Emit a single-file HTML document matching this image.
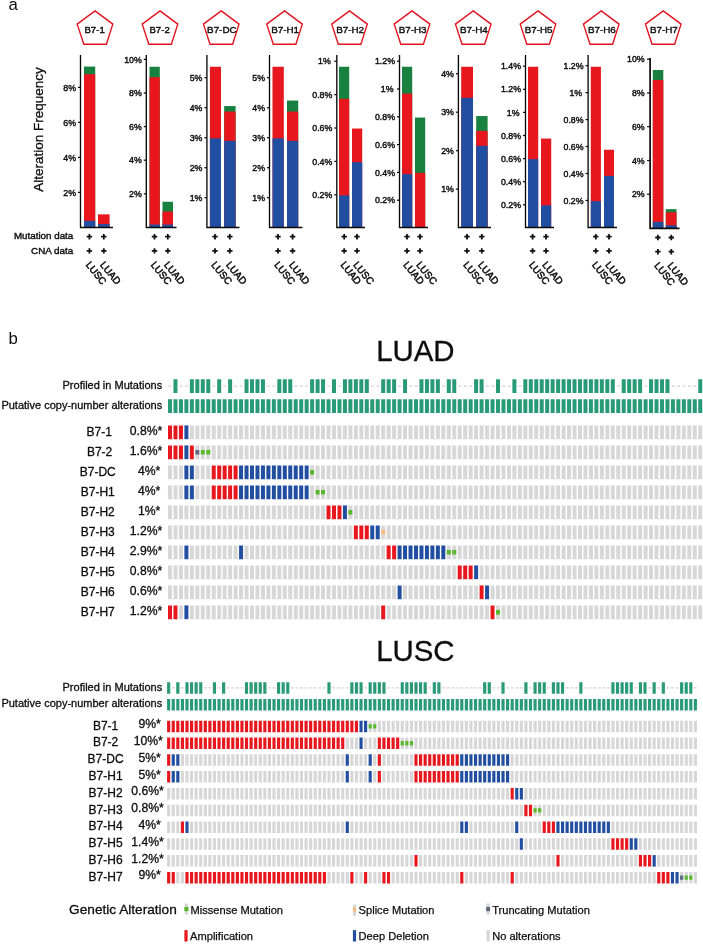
<!DOCTYPE html>
<html lang="en">
<head>
<meta charset="utf-8">
<title>B7 family alterations in LUAD and LUSC</title>
<style>
html,body{margin:0;padding:0;background:#fff;}
body{width:703px;height:944px;overflow:hidden;}
svg{display:block;}
.t{font-family:'Liberation Sans', Arial, sans-serif;fill:#0d0d0d;}
.s{stroke:#0d0d0d;stroke-width:0.4;}
.s2{stroke:#0d0d0d;stroke-width:0.25;}
.s3{stroke:#0d0d0d;stroke-width:0.3;}
.s4{stroke:#0d0d0d;stroke-width:0.5;}
</style>
</head>
<body>
<svg width="703" height="944" viewBox="0 0 703 944">
<rect width="703" height="944" fill="#fff"/>
<text x="8.5" y="10.0" font-size="16.8" class="t">a</text>
<text x="8.5" y="343.8" font-size="16.8" class="t">b</text>
<text transform="translate(42.8,129.5) rotate(-90)" text-anchor="middle" font-size="13.5" class="t s3">Alteration Frequency</text>
<text x="73.3" y="239.2" text-anchor="end" font-size="9.8" class="t s">Mutation data</text>
<text x="73.3" y="253.6" text-anchor="end" font-size="9.9" class="t s">CNA data</text>
<polygon points="95,10.9 112.8,24.1 106.4,44.2 83.8,44.2 77.2,24.1" fill="#fff" stroke="#e3141f" stroke-width="1.4"/>
<text x="94.6" y="33.2" text-anchor="middle" font-size="9.6" class="t s">B7-1</text>
<rect x="84" y="66.55" width="11.2" height="160.95" fill="#18813f"/>
<rect x="84" y="74.15" width="11.2" height="153.35" fill="#e8171d"/>
<rect x="84" y="220.85" width="11.2" height="6.65" fill="#214ea1"/>
<rect x="98" y="214.35" width="11.6" height="13.15" fill="#e8171d"/>
<rect x="98" y="224.15" width="11.6" height="3.35" fill="#214ea1"/>
<path d="M80.5 55V227.5H113" fill="none" stroke="#0a0a0a" stroke-width="1.35"/>
<path d="M78 87.4H80.5" stroke="#0a0a0a" stroke-width="1.25"/>
<text x="76" y="90.55" text-anchor="end" font-size="8.8" class="t s">8%</text>
<path d="M78 122.4H80.5" stroke="#0a0a0a" stroke-width="1.25"/>
<text x="76" y="125.55" text-anchor="end" font-size="8.8" class="t s">6%</text>
<path d="M78 157.4H80.5" stroke="#0a0a0a" stroke-width="1.25"/>
<text x="76" y="160.55" text-anchor="end" font-size="8.8" class="t s">4%</text>
<path d="M78 192.4H80.5" stroke="#0a0a0a" stroke-width="1.25"/>
<text x="76" y="195.55" text-anchor="end" font-size="8.8" class="t s">2%</text>
<path d="M86.7 236.7H92.1M89.4 234V239.4" stroke="#111" stroke-width="1.8" fill="none"/>
<path d="M86.7 250.9H92.1M89.4 248.2V253.6" stroke="#111" stroke-width="1.8" fill="none"/>
<path d="M101.1 236.7H106.5M103.8 234V239.4" stroke="#111" stroke-width="1.8" fill="none"/>
<path d="M101.1 250.9H106.5M103.8 248.2V253.6" stroke="#111" stroke-width="1.8" fill="none"/>
<text transform="translate(85.2,264.9) rotate(51)" font-size="9.9" class="t s4">LUSC</text>
<text transform="translate(99.6,264.9) rotate(51)" font-size="9.9" class="t s4">LUAD</text>
<polygon points="160,10.9 177.8,24.1 171.4,44.2 148.8,44.2 142.2,24.1" fill="#fff" stroke="#e3141f" stroke-width="1.4"/>
<text x="159.6" y="33.2" text-anchor="middle" font-size="9.6" class="t s">B7-2</text>
<rect x="149.5" y="66.75" width="10.3" height="160.75" fill="#18813f"/>
<rect x="149.5" y="77.15" width="10.3" height="150.35" fill="#e8171d"/>
<rect x="149.5" y="224.55" width="10.3" height="2.95" fill="#214ea1"/>
<rect x="162.5" y="201.75" width="10.5" height="25.75" fill="#18813f"/>
<rect x="162.5" y="211.55" width="10.5" height="15.95" fill="#e8171d"/>
<rect x="162.5" y="224.55" width="10.5" height="2.95" fill="#214ea1"/>
<path d="M146.3 55V227.5H176.5" fill="none" stroke="#0a0a0a" stroke-width="1.35"/>
<path d="M143.8 59.4H146.3" stroke="#0a0a0a" stroke-width="1.25"/>
<text x="141.8" y="62.55" text-anchor="end" font-size="8.8" class="t s">10%</text>
<path d="M143.8 93H146.3" stroke="#0a0a0a" stroke-width="1.25"/>
<text x="141.8" y="96.15" text-anchor="end" font-size="8.8" class="t s">8%</text>
<path d="M143.8 126.6H146.3" stroke="#0a0a0a" stroke-width="1.25"/>
<text x="141.8" y="129.75" text-anchor="end" font-size="8.8" class="t s">6%</text>
<path d="M143.8 160.2H146.3" stroke="#0a0a0a" stroke-width="1.25"/>
<text x="141.8" y="163.35" text-anchor="end" font-size="8.8" class="t s">4%</text>
<path d="M143.8 193.8H146.3" stroke="#0a0a0a" stroke-width="1.25"/>
<text x="141.8" y="196.95" text-anchor="end" font-size="8.8" class="t s">2%</text>
<path d="M151.8 236.7H157.2M154.5 234V239.4" stroke="#111" stroke-width="1.8" fill="none"/>
<path d="M151.8 250.9H157.2M154.5 248.2V253.6" stroke="#111" stroke-width="1.8" fill="none"/>
<path d="M165.1 236.7H170.5M167.8 234V239.4" stroke="#111" stroke-width="1.8" fill="none"/>
<path d="M165.1 250.9H170.5M167.8 248.2V253.6" stroke="#111" stroke-width="1.8" fill="none"/>
<text transform="translate(150.3,264.9) rotate(51)" font-size="9.9" class="t s4">LUSC</text>
<text transform="translate(163.6,264.9) rotate(51)" font-size="9.9" class="t s4">LUAD</text>
<polygon points="221.25,10.9 239.05,24.1 232.65,44.2 210.05,44.2 203.45,24.1" fill="#fff" stroke="#e3141f" stroke-width="1.4"/>
<text x="221.85" y="33.2" text-anchor="middle" font-size="9.85" class="t s">B7-DC</text>
<rect x="209.9" y="66.75" width="11.1" height="160.75" fill="#e8171d"/>
<rect x="209.9" y="138.35" width="11.1" height="89.15" fill="#214ea1"/>
<rect x="224.2" y="106.05" width="11.4" height="121.45" fill="#18813f"/>
<rect x="224.2" y="111.55" width="11.4" height="115.95" fill="#e8171d"/>
<rect x="224.2" y="140.85" width="11.4" height="86.65" fill="#214ea1"/>
<path d="M206.9 55V227.5H239.5" fill="none" stroke="#0a0a0a" stroke-width="1.35"/>
<path d="M204.4 77.7H206.9" stroke="#0a0a0a" stroke-width="1.25"/>
<text x="202.4" y="80.85" text-anchor="end" font-size="8.8" class="t s">5%</text>
<path d="M204.4 107.7H206.9" stroke="#0a0a0a" stroke-width="1.25"/>
<text x="202.4" y="110.85" text-anchor="end" font-size="8.8" class="t s">4%</text>
<path d="M204.4 137.7H206.9" stroke="#0a0a0a" stroke-width="1.25"/>
<text x="202.4" y="140.85" text-anchor="end" font-size="8.8" class="t s">3%</text>
<path d="M204.4 167.7H206.9" stroke="#0a0a0a" stroke-width="1.25"/>
<text x="202.4" y="170.85" text-anchor="end" font-size="8.8" class="t s">2%</text>
<path d="M204.4 197.7H206.9" stroke="#0a0a0a" stroke-width="1.25"/>
<text x="202.4" y="200.85" text-anchor="end" font-size="8.8" class="t s">1%</text>
<path d="M212.3 236.7H217.7M215 234V239.4" stroke="#111" stroke-width="1.8" fill="none"/>
<path d="M212.3 250.9H217.7M215 248.2V253.6" stroke="#111" stroke-width="1.8" fill="none"/>
<path d="M227.1 236.7H232.5M229.8 234V239.4" stroke="#111" stroke-width="1.8" fill="none"/>
<path d="M227.1 250.9H232.5M229.8 248.2V253.6" stroke="#111" stroke-width="1.8" fill="none"/>
<text transform="translate(210.8,264.9) rotate(51)" font-size="9.9" class="t s4">LUSC</text>
<text transform="translate(225.6,264.9) rotate(51)" font-size="9.9" class="t s4">LUAD</text>
<polygon points="284.5,10.9 302.3,24.1 295.9,44.2 273.3,44.2 266.7,24.1" fill="#fff" stroke="#e3141f" stroke-width="1.4"/>
<text x="285.1" y="33.2" text-anchor="middle" font-size="9.85" class="t s">B7-H1</text>
<rect x="272.5" y="66.75" width="11.3" height="160.75" fill="#e8171d"/>
<rect x="272.5" y="138.35" width="11.3" height="89.15" fill="#214ea1"/>
<rect x="287" y="100.55" width="11.2" height="126.95" fill="#18813f"/>
<rect x="287" y="111.55" width="11.2" height="115.95" fill="#e8171d"/>
<rect x="287" y="140.85" width="11.2" height="86.65" fill="#214ea1"/>
<path d="M269.5 55V227.5H302.5" fill="none" stroke="#0a0a0a" stroke-width="1.35"/>
<path d="M267 77.7H269.5" stroke="#0a0a0a" stroke-width="1.25"/>
<text x="265" y="80.85" text-anchor="end" font-size="8.8" class="t s">5%</text>
<path d="M267 107.7H269.5" stroke="#0a0a0a" stroke-width="1.25"/>
<text x="265" y="110.85" text-anchor="end" font-size="8.8" class="t s">4%</text>
<path d="M267 137.7H269.5" stroke="#0a0a0a" stroke-width="1.25"/>
<text x="265" y="140.85" text-anchor="end" font-size="8.8" class="t s">3%</text>
<path d="M267 167.7H269.5" stroke="#0a0a0a" stroke-width="1.25"/>
<text x="265" y="170.85" text-anchor="end" font-size="8.8" class="t s">2%</text>
<path d="M267 197.7H269.5" stroke="#0a0a0a" stroke-width="1.25"/>
<text x="265" y="200.85" text-anchor="end" font-size="8.8" class="t s">1%</text>
<path d="M275.3 236.7H280.7M278 234V239.4" stroke="#111" stroke-width="1.8" fill="none"/>
<path d="M275.3 250.9H280.7M278 248.2V253.6" stroke="#111" stroke-width="1.8" fill="none"/>
<path d="M289.9 236.7H295.3M292.6 234V239.4" stroke="#111" stroke-width="1.8" fill="none"/>
<path d="M289.9 250.9H295.3M292.6 248.2V253.6" stroke="#111" stroke-width="1.8" fill="none"/>
<text transform="translate(273.8,264.9) rotate(51)" font-size="9.9" class="t s4">LUSC</text>
<text transform="translate(288.4,264.9) rotate(51)" font-size="9.9" class="t s4">LUAD</text>
<polygon points="349.5,10.9 367.3,24.1 360.9,44.2 338.3,44.2 331.7,24.1" fill="#fff" stroke="#e3141f" stroke-width="1.4"/>
<text x="350.1" y="33.2" text-anchor="middle" font-size="9.85" class="t s">B7-H2</text>
<rect x="339" y="66.75" width="10.2" height="160.75" fill="#18813f"/>
<rect x="339" y="98.85" width="10.2" height="128.65" fill="#e8171d"/>
<rect x="339" y="195.35" width="10.2" height="32.15" fill="#214ea1"/>
<rect x="352" y="128.55" width="10.2" height="98.95" fill="#e8171d"/>
<rect x="352" y="162.15" width="10.2" height="65.35" fill="#214ea1"/>
<path d="M336.8 55V227.5H365" fill="none" stroke="#0a0a0a" stroke-width="1.35"/>
<path d="M334.3 61.2H336.8" stroke="#0a0a0a" stroke-width="1.25"/>
<text x="330.8" y="64.35" text-anchor="end" font-size="8.8" class="t s">1%</text>
<path d="M334.3 94.6H336.8" stroke="#0a0a0a" stroke-width="1.25"/>
<text x="332.3" y="97.75" text-anchor="end" font-size="8.8" class="t s">0.8%</text>
<path d="M334.3 128H336.8" stroke="#0a0a0a" stroke-width="1.25"/>
<text x="332.3" y="131.15" text-anchor="end" font-size="8.8" class="t s">0.6%</text>
<path d="M334.3 161.4H336.8" stroke="#0a0a0a" stroke-width="1.25"/>
<text x="332.3" y="164.55" text-anchor="end" font-size="8.8" class="t s">0.4%</text>
<path d="M334.3 194.8H336.8" stroke="#0a0a0a" stroke-width="1.25"/>
<text x="332.3" y="197.95" text-anchor="end" font-size="8.8" class="t s">0.2%</text>
<path d="M341.5 236.7H346.9M344.2 234V239.4" stroke="#111" stroke-width="1.8" fill="none"/>
<path d="M341.5 250.9H346.9M344.2 248.2V253.6" stroke="#111" stroke-width="1.8" fill="none"/>
<path d="M354.3 236.7H359.7M357 234V239.4" stroke="#111" stroke-width="1.8" fill="none"/>
<path d="M354.3 250.9H359.7M357 248.2V253.6" stroke="#111" stroke-width="1.8" fill="none"/>
<text transform="translate(340,264.9) rotate(51)" font-size="9.9" class="t s4">LUAD</text>
<text transform="translate(352.8,264.9) rotate(51)" font-size="9.9" class="t s4">LUSC</text>
<polygon points="412,10.9 429.8,24.1 423.4,44.2 400.8,44.2 394.2,24.1" fill="#fff" stroke="#e3141f" stroke-width="1.4"/>
<text x="412.6" y="33.2" text-anchor="middle" font-size="9.85" class="t s">B7-H3</text>
<rect x="402" y="66.75" width="10.2" height="160.75" fill="#18813f"/>
<rect x="402" y="93.55" width="10.2" height="133.95" fill="#e8171d"/>
<rect x="402" y="174.15" width="10.2" height="53.35" fill="#214ea1"/>
<rect x="415" y="117.55" width="10.2" height="109.95" fill="#18813f"/>
<rect x="415" y="172.85" width="10.2" height="54.65" fill="#e8171d"/>
<path d="M399.5 55V227.5H428" fill="none" stroke="#0a0a0a" stroke-width="1.35"/>
<path d="M397 61.2H399.5" stroke="#0a0a0a" stroke-width="1.25"/>
<text x="395" y="64.35" text-anchor="end" font-size="8.8" class="t s">1.2%</text>
<path d="M397 89H399.5" stroke="#0a0a0a" stroke-width="1.25"/>
<text x="393.5" y="92.15" text-anchor="end" font-size="8.8" class="t s">1%</text>
<path d="M397 116.8H399.5" stroke="#0a0a0a" stroke-width="1.25"/>
<text x="395" y="119.95" text-anchor="end" font-size="8.8" class="t s">0.8%</text>
<path d="M397 144.6H399.5" stroke="#0a0a0a" stroke-width="1.25"/>
<text x="395" y="147.75" text-anchor="end" font-size="8.8" class="t s">0.6%</text>
<path d="M397 172.4H399.5" stroke="#0a0a0a" stroke-width="1.25"/>
<text x="395" y="175.55" text-anchor="end" font-size="8.8" class="t s">0.4%</text>
<path d="M397 200.2H399.5" stroke="#0a0a0a" stroke-width="1.25"/>
<text x="395" y="203.35" text-anchor="end" font-size="8.8" class="t s">0.2%</text>
<path d="M404.3 236.7H409.7M407 234V239.4" stroke="#111" stroke-width="1.8" fill="none"/>
<path d="M404.3 250.9H409.7M407 248.2V253.6" stroke="#111" stroke-width="1.8" fill="none"/>
<path d="M417.3 236.7H422.7M420 234V239.4" stroke="#111" stroke-width="1.8" fill="none"/>
<path d="M417.3 250.9H422.7M420 248.2V253.6" stroke="#111" stroke-width="1.8" fill="none"/>
<text transform="translate(402.8,264.9) rotate(51)" font-size="9.9" class="t s4">LUAD</text>
<text transform="translate(415.8,264.9) rotate(51)" font-size="9.9" class="t s4">LUSC</text>
<polygon points="473.25,10.9 491.05,24.1 484.65,44.2 462.05,44.2 455.45,24.1" fill="#fff" stroke="#e3141f" stroke-width="1.4"/>
<text x="473.85" y="33.2" text-anchor="middle" font-size="9.85" class="t s">B7-H4</text>
<rect x="461.2" y="66.75" width="11.8" height="160.75" fill="#e8171d"/>
<rect x="461.2" y="97.85" width="11.8" height="129.65" fill="#214ea1"/>
<rect x="476.2" y="116.05" width="11.4" height="111.45" fill="#18813f"/>
<rect x="476.2" y="130.85" width="11.4" height="96.65" fill="#e8171d"/>
<rect x="476.2" y="145.85" width="11.4" height="81.65" fill="#214ea1"/>
<path d="M458.4 55V227.5H491" fill="none" stroke="#0a0a0a" stroke-width="1.35"/>
<path d="M455.9 73.7H458.4" stroke="#0a0a0a" stroke-width="1.25"/>
<text x="453.9" y="76.85" text-anchor="end" font-size="8.8" class="t s">4%</text>
<path d="M455.9 112.2H458.4" stroke="#0a0a0a" stroke-width="1.25"/>
<text x="453.9" y="115.35" text-anchor="end" font-size="8.8" class="t s">3%</text>
<path d="M455.9 150.7H458.4" stroke="#0a0a0a" stroke-width="1.25"/>
<text x="453.9" y="153.85" text-anchor="end" font-size="8.8" class="t s">2%</text>
<path d="M455.9 189.2H458.4" stroke="#0a0a0a" stroke-width="1.25"/>
<text x="453.9" y="192.35" text-anchor="end" font-size="8.8" class="t s">1%</text>
<path d="M464.3 236.7H469.7M467 234V239.4" stroke="#111" stroke-width="1.8" fill="none"/>
<path d="M464.3 250.9H469.7M467 248.2V253.6" stroke="#111" stroke-width="1.8" fill="none"/>
<path d="M479.1 236.7H484.5M481.8 234V239.4" stroke="#111" stroke-width="1.8" fill="none"/>
<path d="M479.1 250.9H484.5M481.8 248.2V253.6" stroke="#111" stroke-width="1.8" fill="none"/>
<text transform="translate(462.8,264.9) rotate(51)" font-size="9.9" class="t s4">LUSC</text>
<text transform="translate(477.6,264.9) rotate(51)" font-size="9.9" class="t s4">LUAD</text>
<polygon points="538,10.9 555.8,24.1 549.4,44.2 526.8,44.2 520.2,24.1" fill="#fff" stroke="#e3141f" stroke-width="1.4"/>
<text x="538.6" y="33.2" text-anchor="middle" font-size="9.85" class="t s">B7-H5</text>
<rect x="528" y="66.75" width="10.2" height="160.75" fill="#e8171d"/>
<rect x="528" y="159.15" width="10.2" height="68.35" fill="#214ea1"/>
<rect x="541" y="138.55" width="10.2" height="88.95" fill="#e8171d"/>
<rect x="541" y="205.35" width="10.2" height="22.15" fill="#214ea1"/>
<path d="M525.5 55V227.5H554" fill="none" stroke="#0a0a0a" stroke-width="1.35"/>
<path d="M523 66.2H525.5" stroke="#0a0a0a" stroke-width="1.25"/>
<text x="521" y="69.35" text-anchor="end" font-size="8.8" class="t s">1.4%</text>
<path d="M523 89.3H525.5" stroke="#0a0a0a" stroke-width="1.25"/>
<text x="521" y="92.45" text-anchor="end" font-size="8.8" class="t s">1.2%</text>
<path d="M523 112.4H525.5" stroke="#0a0a0a" stroke-width="1.25"/>
<text x="519.5" y="115.55" text-anchor="end" font-size="8.8" class="t s">1%</text>
<path d="M523 135.5H525.5" stroke="#0a0a0a" stroke-width="1.25"/>
<text x="521" y="138.65" text-anchor="end" font-size="8.8" class="t s">0.8%</text>
<path d="M523 158.6H525.5" stroke="#0a0a0a" stroke-width="1.25"/>
<text x="521" y="161.75" text-anchor="end" font-size="8.8" class="t s">0.6%</text>
<path d="M523 181.7H525.5" stroke="#0a0a0a" stroke-width="1.25"/>
<text x="521" y="184.85" text-anchor="end" font-size="8.8" class="t s">0.4%</text>
<path d="M523 204.8H525.5" stroke="#0a0a0a" stroke-width="1.25"/>
<text x="521" y="207.95" text-anchor="end" font-size="8.8" class="t s">0.2%</text>
<path d="M529.9 236.7H535.3M532.6 234V239.4" stroke="#111" stroke-width="1.8" fill="none"/>
<path d="M529.9 250.9H535.3M532.6 248.2V253.6" stroke="#111" stroke-width="1.8" fill="none"/>
<path d="M543.3 236.7H548.7M546 234V239.4" stroke="#111" stroke-width="1.8" fill="none"/>
<path d="M543.3 250.9H548.7M546 248.2V253.6" stroke="#111" stroke-width="1.8" fill="none"/>
<text transform="translate(528.4,264.9) rotate(51)" font-size="9.9" class="t s4">LUSC</text>
<text transform="translate(541.8,264.9) rotate(51)" font-size="9.9" class="t s4">LUAD</text>
<polygon points="601.25,10.9 619.05,24.1 612.65,44.2 590.05,44.2 583.45,24.1" fill="#fff" stroke="#e3141f" stroke-width="1.4"/>
<text x="601.85" y="33.2" text-anchor="middle" font-size="9.85" class="t s">B7-H6</text>
<rect x="590.8" y="66.75" width="10.1" height="160.75" fill="#e8171d"/>
<rect x="590.8" y="201.15" width="10.1" height="26.35" fill="#214ea1"/>
<rect x="604" y="149.75" width="10" height="77.75" fill="#e8171d"/>
<rect x="604" y="175.85" width="10" height="51.65" fill="#214ea1"/>
<path d="M588.1 55V227.5H617" fill="none" stroke="#0a0a0a" stroke-width="1.35"/>
<path d="M585.6 65.7H588.1" stroke="#0a0a0a" stroke-width="1.25"/>
<text x="583.6" y="68.85" text-anchor="end" font-size="8.8" class="t s">1.2%</text>
<path d="M585.6 92.65H588.1" stroke="#0a0a0a" stroke-width="1.25"/>
<text x="582.1" y="95.8" text-anchor="end" font-size="8.8" class="t s">1%</text>
<path d="M585.6 119.6H588.1" stroke="#0a0a0a" stroke-width="1.25"/>
<text x="583.6" y="122.75" text-anchor="end" font-size="8.8" class="t s">0.8%</text>
<path d="M585.6 146.55H588.1" stroke="#0a0a0a" stroke-width="1.25"/>
<text x="583.6" y="149.7" text-anchor="end" font-size="8.8" class="t s">0.6%</text>
<path d="M585.6 173.5H588.1" stroke="#0a0a0a" stroke-width="1.25"/>
<text x="583.6" y="176.65" text-anchor="end" font-size="8.8" class="t s">0.4%</text>
<path d="M585.6 200.45H588.1" stroke="#0a0a0a" stroke-width="1.25"/>
<text x="583.6" y="203.6" text-anchor="end" font-size="8.8" class="t s">0.2%</text>
<path d="M593.1 236.7H598.5M595.8 234V239.4" stroke="#111" stroke-width="1.8" fill="none"/>
<path d="M593.1 250.9H598.5M595.8 248.2V253.6" stroke="#111" stroke-width="1.8" fill="none"/>
<path d="M606.3 236.7H611.7M609 234V239.4" stroke="#111" stroke-width="1.8" fill="none"/>
<path d="M606.3 250.9H611.7M609 248.2V253.6" stroke="#111" stroke-width="1.8" fill="none"/>
<text transform="translate(591.6,264.9) rotate(51)" font-size="9.9" class="t s4">LUSC</text>
<text transform="translate(604.8,264.9) rotate(51)" font-size="9.9" class="t s4">LUAD</text>
<polygon points="663.25,10.9 681.05,24.1 674.65,44.2 652.05,44.2 645.45,24.1" fill="#fff" stroke="#e3141f" stroke-width="1.4"/>
<text x="663.85" y="33.2" text-anchor="middle" font-size="9.85" class="t s">B7-H7</text>
<rect x="652.8" y="70" width="10.5" height="158.3" fill="#18813f"/>
<rect x="652.8" y="79.95" width="10.5" height="148.35" fill="#e8171d"/>
<rect x="652.8" y="221.95" width="10.5" height="6.35" fill="#214ea1"/>
<rect x="665.8" y="209.15" width="10.7" height="19.15" fill="#18813f"/>
<rect x="665.8" y="212.25" width="10.7" height="16.05" fill="#e8171d"/>
<rect x="665.8" y="225.35" width="10.7" height="2.95" fill="#214ea1"/>
<path d="M650.1 58V228.3H679.5" fill="none" stroke="#0a0a0a" stroke-width="1.7"/>
<path d="M647.1 59.2H650.1" stroke="#0a0a0a" stroke-width="1.25"/>
<text x="644.6" y="62.35" text-anchor="end" font-size="8.8" class="t s">10%</text>
<path d="M647.1 93H650.1" stroke="#0a0a0a" stroke-width="1.25"/>
<text x="644.6" y="96.15" text-anchor="end" font-size="8.8" class="t s">8%</text>
<path d="M647.1 126.7H650.1" stroke="#0a0a0a" stroke-width="1.25"/>
<text x="644.6" y="129.85" text-anchor="end" font-size="8.8" class="t s">6%</text>
<path d="M647.1 160.5H650.1" stroke="#0a0a0a" stroke-width="1.25"/>
<text x="644.6" y="163.65" text-anchor="end" font-size="8.8" class="t s">4%</text>
<path d="M647.1 194.2H650.1" stroke="#0a0a0a" stroke-width="1.25"/>
<text x="644.6" y="197.35" text-anchor="end" font-size="8.8" class="t s">2%</text>
<path d="M655.2 237.5H660.6M657.9 234.8V240.2" stroke="#111" stroke-width="1.8" fill="none"/>
<path d="M655.2 251.7H660.6M657.9 249V254.4" stroke="#111" stroke-width="1.8" fill="none"/>
<path d="M668.6 237.5H674M671.3 234.8V240.2" stroke="#111" stroke-width="1.8" fill="none"/>
<path d="M668.6 251.7H674M671.3 249V254.4" stroke="#111" stroke-width="1.8" fill="none"/>
<text transform="translate(653.7,265.7) rotate(51)" font-size="9.9" class="t s4">LUSC</text>
<text transform="translate(667.1,265.7) rotate(51)" font-size="9.9" class="t s4">LUAD</text>
<text x="415.4" y="360.5" text-anchor="middle" font-size="29.4" class="t s3">LUAD</text>
<text x="162.2" y="389.2" text-anchor="end" font-size="11" class="t s3">Profiled in Mutations</text>
<text x="162.2" y="409.2" text-anchor="end" font-size="11" class="t s3">Putative copy-number alterations</text>
<path d="M168 386.2H702.25" stroke="#d2d2d2" stroke-width="1.3" stroke-dasharray="3.1 2.37" stroke-dashoffset="-0.45" fill="none"/>
<path d="M173.47 379.3h4v13.8h-4zM189.87 379.3h4v13.8h-4zM195.33 379.3h4v13.8h-4zM200.8 379.3h4v13.8h-4zM206.27 379.3h4v13.8h-4zM217.2 379.3h4v13.8h-4zM228.13 379.3h4v13.8h-4zM244.53 379.3h4v13.8h-4zM250 379.3h4v13.8h-4zM255.46 379.3h4v13.8h-4zM260.93 379.3h4v13.8h-4zM277.33 379.3h4v13.8h-4zM282.8 379.3h4v13.8h-4zM288.26 379.3h4v13.8h-4zM310.13 379.3h4v13.8h-4zM315.6 379.3h4v13.8h-4zM321.06 379.3h4v13.8h-4zM332 379.3h4v13.8h-4zM342.93 379.3h4v13.8h-4zM348.39 379.3h4v13.8h-4zM353.86 379.3h4v13.8h-4zM359.33 379.3h4v13.8h-4zM364.79 379.3h4v13.8h-4zM381.19 379.3h4v13.8h-4zM386.66 379.3h4v13.8h-4zM392.13 379.3h4v13.8h-4zM403.06 379.3h4v13.8h-4zM419.46 379.3h4v13.8h-4zM424.93 379.3h4v13.8h-4zM430.39 379.3h4v13.8h-4zM435.86 379.3h4v13.8h-4zM446.79 379.3h4v13.8h-4zM452.26 379.3h4v13.8h-4zM474.12 379.3h4v13.8h-4zM479.59 379.3h4v13.8h-4zM495.99 379.3h4v13.8h-4zM512.39 379.3h4v13.8h-4zM523.32 379.3h4v13.8h-4zM528.79 379.3h4v13.8h-4zM534.26 379.3h4v13.8h-4zM539.72 379.3h4v13.8h-4zM545.19 379.3h4v13.8h-4zM550.65 379.3h4v13.8h-4zM556.12 379.3h4v13.8h-4zM561.59 379.3h4v13.8h-4zM567.05 379.3h4v13.8h-4zM572.52 379.3h4v13.8h-4zM577.99 379.3h4v13.8h-4zM583.45 379.3h4v13.8h-4zM588.92 379.3h4v13.8h-4zM594.39 379.3h4v13.8h-4zM599.85 379.3h4v13.8h-4zM605.32 379.3h4v13.8h-4zM610.79 379.3h4v13.8h-4zM621.72 379.3h4v13.8h-4zM627.19 379.3h4v13.8h-4zM632.65 379.3h4v13.8h-4zM638.12 379.3h4v13.8h-4zM649.05 379.3h4v13.8h-4zM654.52 379.3h4v13.8h-4zM659.99 379.3h4v13.8h-4zM665.45 379.3h4v13.8h-4zM698.25 379.3h4v13.8h-4z" fill="#289a75"/>
<path d="M168 399.3h4v13.8h-4zM173.47 399.3h4v13.8h-4zM178.93 399.3h4v13.8h-4zM184.4 399.3h4v13.8h-4zM189.87 399.3h4v13.8h-4zM195.33 399.3h4v13.8h-4zM200.8 399.3h4v13.8h-4zM206.27 399.3h4v13.8h-4zM211.73 399.3h4v13.8h-4zM217.2 399.3h4v13.8h-4zM222.66 399.3h4v13.8h-4zM228.13 399.3h4v13.8h-4zM233.6 399.3h4v13.8h-4zM239.06 399.3h4v13.8h-4zM244.53 399.3h4v13.8h-4zM250 399.3h4v13.8h-4zM255.46 399.3h4v13.8h-4zM260.93 399.3h4v13.8h-4zM266.4 399.3h4v13.8h-4zM271.86 399.3h4v13.8h-4zM277.33 399.3h4v13.8h-4zM282.8 399.3h4v13.8h-4zM288.26 399.3h4v13.8h-4zM293.73 399.3h4v13.8h-4zM299.2 399.3h4v13.8h-4zM304.66 399.3h4v13.8h-4zM310.13 399.3h4v13.8h-4zM315.6 399.3h4v13.8h-4zM321.06 399.3h4v13.8h-4zM326.53 399.3h4v13.8h-4zM332 399.3h4v13.8h-4zM337.46 399.3h4v13.8h-4zM342.93 399.3h4v13.8h-4zM348.39 399.3h4v13.8h-4zM353.86 399.3h4v13.8h-4zM359.33 399.3h4v13.8h-4zM364.79 399.3h4v13.8h-4zM370.26 399.3h4v13.8h-4zM375.73 399.3h4v13.8h-4zM381.19 399.3h4v13.8h-4zM386.66 399.3h4v13.8h-4zM392.13 399.3h4v13.8h-4zM397.59 399.3h4v13.8h-4zM403.06 399.3h4v13.8h-4zM408.53 399.3h4v13.8h-4zM413.99 399.3h4v13.8h-4zM419.46 399.3h4v13.8h-4zM424.93 399.3h4v13.8h-4zM430.39 399.3h4v13.8h-4zM435.86 399.3h4v13.8h-4zM441.32 399.3h4v13.8h-4zM446.79 399.3h4v13.8h-4zM452.26 399.3h4v13.8h-4zM457.72 399.3h4v13.8h-4zM463.19 399.3h4v13.8h-4zM468.66 399.3h4v13.8h-4zM474.12 399.3h4v13.8h-4zM479.59 399.3h4v13.8h-4zM485.06 399.3h4v13.8h-4zM490.52 399.3h4v13.8h-4zM495.99 399.3h4v13.8h-4zM501.46 399.3h4v13.8h-4zM506.92 399.3h4v13.8h-4zM512.39 399.3h4v13.8h-4zM517.86 399.3h4v13.8h-4zM523.32 399.3h4v13.8h-4zM528.79 399.3h4v13.8h-4zM534.26 399.3h4v13.8h-4zM539.72 399.3h4v13.8h-4zM545.19 399.3h4v13.8h-4zM550.65 399.3h4v13.8h-4zM556.12 399.3h4v13.8h-4zM561.59 399.3h4v13.8h-4zM567.05 399.3h4v13.8h-4zM572.52 399.3h4v13.8h-4zM577.99 399.3h4v13.8h-4zM583.45 399.3h4v13.8h-4zM588.92 399.3h4v13.8h-4zM594.39 399.3h4v13.8h-4zM599.85 399.3h4v13.8h-4zM605.32 399.3h4v13.8h-4zM610.79 399.3h4v13.8h-4zM616.25 399.3h4v13.8h-4zM621.72 399.3h4v13.8h-4zM627.19 399.3h4v13.8h-4zM632.65 399.3h4v13.8h-4zM638.12 399.3h4v13.8h-4zM643.59 399.3h4v13.8h-4zM649.05 399.3h4v13.8h-4zM654.52 399.3h4v13.8h-4zM659.99 399.3h4v13.8h-4zM665.45 399.3h4v13.8h-4zM670.92 399.3h4v13.8h-4zM676.38 399.3h4v13.8h-4zM681.85 399.3h4v13.8h-4zM687.32 399.3h4v13.8h-4zM692.78 399.3h4v13.8h-4zM698.25 399.3h4v13.8h-4z" fill="#289a75"/>
<text x="99.2" y="435.7" text-anchor="middle" font-size="12" class="t s3">B7-1</text>
<text x="146.1" y="435.1" text-anchor="middle" font-size="12.2" class="t s3">0.8%*</text>
<path d="M189.87 425.4h4v13.8h-4zM195.33 425.4h4v13.8h-4zM200.8 425.4h4v13.8h-4zM206.27 425.4h4v13.8h-4zM211.73 425.4h4v13.8h-4zM217.2 425.4h4v13.8h-4zM222.66 425.4h4v13.8h-4zM228.13 425.4h4v13.8h-4zM233.6 425.4h4v13.8h-4zM239.06 425.4h4v13.8h-4zM244.53 425.4h4v13.8h-4zM250 425.4h4v13.8h-4zM255.46 425.4h4v13.8h-4zM260.93 425.4h4v13.8h-4zM266.4 425.4h4v13.8h-4zM271.86 425.4h4v13.8h-4zM277.33 425.4h4v13.8h-4zM282.8 425.4h4v13.8h-4zM288.26 425.4h4v13.8h-4zM293.73 425.4h4v13.8h-4zM299.2 425.4h4v13.8h-4zM304.66 425.4h4v13.8h-4zM310.13 425.4h4v13.8h-4zM315.6 425.4h4v13.8h-4zM321.06 425.4h4v13.8h-4zM326.53 425.4h4v13.8h-4zM332 425.4h4v13.8h-4zM337.46 425.4h4v13.8h-4zM342.93 425.4h4v13.8h-4zM348.39 425.4h4v13.8h-4zM353.86 425.4h4v13.8h-4zM359.33 425.4h4v13.8h-4zM364.79 425.4h4v13.8h-4zM370.26 425.4h4v13.8h-4zM375.73 425.4h4v13.8h-4zM381.19 425.4h4v13.8h-4zM386.66 425.4h4v13.8h-4zM392.13 425.4h4v13.8h-4zM397.59 425.4h4v13.8h-4zM403.06 425.4h4v13.8h-4zM408.53 425.4h4v13.8h-4zM413.99 425.4h4v13.8h-4zM419.46 425.4h4v13.8h-4zM424.93 425.4h4v13.8h-4zM430.39 425.4h4v13.8h-4zM435.86 425.4h4v13.8h-4zM441.32 425.4h4v13.8h-4zM446.79 425.4h4v13.8h-4zM452.26 425.4h4v13.8h-4zM457.72 425.4h4v13.8h-4zM463.19 425.4h4v13.8h-4zM468.66 425.4h4v13.8h-4zM474.12 425.4h4v13.8h-4zM479.59 425.4h4v13.8h-4zM485.06 425.4h4v13.8h-4zM490.52 425.4h4v13.8h-4zM495.99 425.4h4v13.8h-4zM501.46 425.4h4v13.8h-4zM506.92 425.4h4v13.8h-4zM512.39 425.4h4v13.8h-4zM517.86 425.4h4v13.8h-4zM523.32 425.4h4v13.8h-4zM528.79 425.4h4v13.8h-4zM534.26 425.4h4v13.8h-4zM539.72 425.4h4v13.8h-4zM545.19 425.4h4v13.8h-4zM550.65 425.4h4v13.8h-4zM556.12 425.4h4v13.8h-4zM561.59 425.4h4v13.8h-4zM567.05 425.4h4v13.8h-4zM572.52 425.4h4v13.8h-4zM577.99 425.4h4v13.8h-4zM583.45 425.4h4v13.8h-4zM588.92 425.4h4v13.8h-4zM594.39 425.4h4v13.8h-4zM599.85 425.4h4v13.8h-4zM605.32 425.4h4v13.8h-4zM610.79 425.4h4v13.8h-4zM616.25 425.4h4v13.8h-4zM621.72 425.4h4v13.8h-4zM627.19 425.4h4v13.8h-4zM632.65 425.4h4v13.8h-4zM638.12 425.4h4v13.8h-4zM643.59 425.4h4v13.8h-4zM649.05 425.4h4v13.8h-4zM654.52 425.4h4v13.8h-4zM659.99 425.4h4v13.8h-4zM665.45 425.4h4v13.8h-4zM670.92 425.4h4v13.8h-4zM676.38 425.4h4v13.8h-4zM681.85 425.4h4v13.8h-4zM687.32 425.4h4v13.8h-4zM692.78 425.4h4v13.8h-4zM698.25 425.4h4v13.8h-4z" fill="#d7d7d7"/>
<path d="M168 425.4h4v13.8h-4zM173.47 425.4h4v13.8h-4zM178.93 425.4h4v13.8h-4z" fill="#e8171d"/>
<path d="M184.4 425.4h4v13.8h-4z" fill="#214ea1"/>
<text x="99.6" y="455.7" text-anchor="middle" font-size="12" class="t s3">B7-2</text>
<text x="146.1" y="455.1" text-anchor="middle" font-size="12.2" class="t s3">1.6%*</text>
<path d="M195.33 445.4h4v13.8h-4zM200.8 445.4h4v13.8h-4zM206.27 445.4h4v13.8h-4zM211.73 445.4h4v13.8h-4zM217.2 445.4h4v13.8h-4zM222.66 445.4h4v13.8h-4zM228.13 445.4h4v13.8h-4zM233.6 445.4h4v13.8h-4zM239.06 445.4h4v13.8h-4zM244.53 445.4h4v13.8h-4zM250 445.4h4v13.8h-4zM255.46 445.4h4v13.8h-4zM260.93 445.4h4v13.8h-4zM266.4 445.4h4v13.8h-4zM271.86 445.4h4v13.8h-4zM277.33 445.4h4v13.8h-4zM282.8 445.4h4v13.8h-4zM288.26 445.4h4v13.8h-4zM293.73 445.4h4v13.8h-4zM299.2 445.4h4v13.8h-4zM304.66 445.4h4v13.8h-4zM310.13 445.4h4v13.8h-4zM315.6 445.4h4v13.8h-4zM321.06 445.4h4v13.8h-4zM326.53 445.4h4v13.8h-4zM332 445.4h4v13.8h-4zM337.46 445.4h4v13.8h-4zM342.93 445.4h4v13.8h-4zM348.39 445.4h4v13.8h-4zM353.86 445.4h4v13.8h-4zM359.33 445.4h4v13.8h-4zM364.79 445.4h4v13.8h-4zM370.26 445.4h4v13.8h-4zM375.73 445.4h4v13.8h-4zM381.19 445.4h4v13.8h-4zM386.66 445.4h4v13.8h-4zM392.13 445.4h4v13.8h-4zM397.59 445.4h4v13.8h-4zM403.06 445.4h4v13.8h-4zM408.53 445.4h4v13.8h-4zM413.99 445.4h4v13.8h-4zM419.46 445.4h4v13.8h-4zM424.93 445.4h4v13.8h-4zM430.39 445.4h4v13.8h-4zM435.86 445.4h4v13.8h-4zM441.32 445.4h4v13.8h-4zM446.79 445.4h4v13.8h-4zM452.26 445.4h4v13.8h-4zM457.72 445.4h4v13.8h-4zM463.19 445.4h4v13.8h-4zM468.66 445.4h4v13.8h-4zM474.12 445.4h4v13.8h-4zM479.59 445.4h4v13.8h-4zM485.06 445.4h4v13.8h-4zM490.52 445.4h4v13.8h-4zM495.99 445.4h4v13.8h-4zM501.46 445.4h4v13.8h-4zM506.92 445.4h4v13.8h-4zM512.39 445.4h4v13.8h-4zM517.86 445.4h4v13.8h-4zM523.32 445.4h4v13.8h-4zM528.79 445.4h4v13.8h-4zM534.26 445.4h4v13.8h-4zM539.72 445.4h4v13.8h-4zM545.19 445.4h4v13.8h-4zM550.65 445.4h4v13.8h-4zM556.12 445.4h4v13.8h-4zM561.59 445.4h4v13.8h-4zM567.05 445.4h4v13.8h-4zM572.52 445.4h4v13.8h-4zM577.99 445.4h4v13.8h-4zM583.45 445.4h4v13.8h-4zM588.92 445.4h4v13.8h-4zM594.39 445.4h4v13.8h-4zM599.85 445.4h4v13.8h-4zM605.32 445.4h4v13.8h-4zM610.79 445.4h4v13.8h-4zM616.25 445.4h4v13.8h-4zM621.72 445.4h4v13.8h-4zM627.19 445.4h4v13.8h-4zM632.65 445.4h4v13.8h-4zM638.12 445.4h4v13.8h-4zM643.59 445.4h4v13.8h-4zM649.05 445.4h4v13.8h-4zM654.52 445.4h4v13.8h-4zM659.99 445.4h4v13.8h-4zM665.45 445.4h4v13.8h-4zM670.92 445.4h4v13.8h-4zM676.38 445.4h4v13.8h-4zM681.85 445.4h4v13.8h-4zM687.32 445.4h4v13.8h-4zM692.78 445.4h4v13.8h-4zM698.25 445.4h4v13.8h-4z" fill="#d7d7d7"/>
<path d="M168 445.4h4v13.8h-4zM173.47 445.4h4v13.8h-4zM178.93 445.4h4v13.8h-4zM189.87 445.4h4v13.8h-4z" fill="#e8171d"/>
<path d="M184.4 445.4h4v13.8h-4z" fill="#214ea1"/>
<path d="M200.8 450h4v4.6h-4zM206.27 450h4v4.6h-4z" fill="#5ab82c"/>
<path d="M195.33 450h4v4.6h-4z" fill="#5f6a80"/>
<text x="97.8" y="475.7" text-anchor="middle" font-size="12" class="t s3">B7-DC</text>
<text x="149.1" y="475.1" text-anchor="middle" font-size="12.2" class="t s3">4%*</text>
<path d="M168 465.4h4v13.8h-4zM173.47 465.4h4v13.8h-4zM178.93 465.4h4v13.8h-4zM195.33 465.4h4v13.8h-4zM200.8 465.4h4v13.8h-4zM206.27 465.4h4v13.8h-4zM310.13 465.4h4v13.8h-4zM315.6 465.4h4v13.8h-4zM321.06 465.4h4v13.8h-4zM326.53 465.4h4v13.8h-4zM332 465.4h4v13.8h-4zM337.46 465.4h4v13.8h-4zM342.93 465.4h4v13.8h-4zM348.39 465.4h4v13.8h-4zM353.86 465.4h4v13.8h-4zM359.33 465.4h4v13.8h-4zM364.79 465.4h4v13.8h-4zM370.26 465.4h4v13.8h-4zM375.73 465.4h4v13.8h-4zM381.19 465.4h4v13.8h-4zM386.66 465.4h4v13.8h-4zM392.13 465.4h4v13.8h-4zM397.59 465.4h4v13.8h-4zM403.06 465.4h4v13.8h-4zM408.53 465.4h4v13.8h-4zM413.99 465.4h4v13.8h-4zM419.46 465.4h4v13.8h-4zM424.93 465.4h4v13.8h-4zM430.39 465.4h4v13.8h-4zM435.86 465.4h4v13.8h-4zM441.32 465.4h4v13.8h-4zM446.79 465.4h4v13.8h-4zM452.26 465.4h4v13.8h-4zM457.72 465.4h4v13.8h-4zM463.19 465.4h4v13.8h-4zM468.66 465.4h4v13.8h-4zM474.12 465.4h4v13.8h-4zM479.59 465.4h4v13.8h-4zM485.06 465.4h4v13.8h-4zM490.52 465.4h4v13.8h-4zM495.99 465.4h4v13.8h-4zM501.46 465.4h4v13.8h-4zM506.92 465.4h4v13.8h-4zM512.39 465.4h4v13.8h-4zM517.86 465.4h4v13.8h-4zM523.32 465.4h4v13.8h-4zM528.79 465.4h4v13.8h-4zM534.26 465.4h4v13.8h-4zM539.72 465.4h4v13.8h-4zM545.19 465.4h4v13.8h-4zM550.65 465.4h4v13.8h-4zM556.12 465.4h4v13.8h-4zM561.59 465.4h4v13.8h-4zM567.05 465.4h4v13.8h-4zM572.52 465.4h4v13.8h-4zM577.99 465.4h4v13.8h-4zM583.45 465.4h4v13.8h-4zM588.92 465.4h4v13.8h-4zM594.39 465.4h4v13.8h-4zM599.85 465.4h4v13.8h-4zM605.32 465.4h4v13.8h-4zM610.79 465.4h4v13.8h-4zM616.25 465.4h4v13.8h-4zM621.72 465.4h4v13.8h-4zM627.19 465.4h4v13.8h-4zM632.65 465.4h4v13.8h-4zM638.12 465.4h4v13.8h-4zM643.59 465.4h4v13.8h-4zM649.05 465.4h4v13.8h-4zM654.52 465.4h4v13.8h-4zM659.99 465.4h4v13.8h-4zM665.45 465.4h4v13.8h-4zM670.92 465.4h4v13.8h-4zM676.38 465.4h4v13.8h-4zM681.85 465.4h4v13.8h-4zM687.32 465.4h4v13.8h-4zM692.78 465.4h4v13.8h-4zM698.25 465.4h4v13.8h-4z" fill="#d7d7d7"/>
<path d="M211.73 465.4h4v13.8h-4zM217.2 465.4h4v13.8h-4zM222.66 465.4h4v13.8h-4zM228.13 465.4h4v13.8h-4zM233.6 465.4h4v13.8h-4z" fill="#e8171d"/>
<path d="M184.4 465.4h4v13.8h-4zM189.87 465.4h4v13.8h-4zM239.06 465.4h4v13.8h-4zM244.53 465.4h4v13.8h-4zM250 465.4h4v13.8h-4zM255.46 465.4h4v13.8h-4zM260.93 465.4h4v13.8h-4zM266.4 465.4h4v13.8h-4zM271.86 465.4h4v13.8h-4zM277.33 465.4h4v13.8h-4zM282.8 465.4h4v13.8h-4zM288.26 465.4h4v13.8h-4zM293.73 465.4h4v13.8h-4zM299.2 465.4h4v13.8h-4zM304.66 465.4h4v13.8h-4z" fill="#214ea1"/>
<path d="M310.13 470h4v4.6h-4z" fill="#5ab82c"/>
<text x="97.8" y="495.7" text-anchor="middle" font-size="12" class="t s3">B7-H1</text>
<text x="149.1" y="495.1" text-anchor="middle" font-size="12.2" class="t s3">4%*</text>
<path d="M168 485.4h4v13.8h-4zM173.47 485.4h4v13.8h-4zM178.93 485.4h4v13.8h-4zM195.33 485.4h4v13.8h-4zM200.8 485.4h4v13.8h-4zM206.27 485.4h4v13.8h-4zM310.13 485.4h4v13.8h-4zM315.6 485.4h4v13.8h-4zM321.06 485.4h4v13.8h-4zM326.53 485.4h4v13.8h-4zM332 485.4h4v13.8h-4zM337.46 485.4h4v13.8h-4zM342.93 485.4h4v13.8h-4zM348.39 485.4h4v13.8h-4zM353.86 485.4h4v13.8h-4zM359.33 485.4h4v13.8h-4zM364.79 485.4h4v13.8h-4zM370.26 485.4h4v13.8h-4zM375.73 485.4h4v13.8h-4zM381.19 485.4h4v13.8h-4zM386.66 485.4h4v13.8h-4zM392.13 485.4h4v13.8h-4zM397.59 485.4h4v13.8h-4zM403.06 485.4h4v13.8h-4zM408.53 485.4h4v13.8h-4zM413.99 485.4h4v13.8h-4zM419.46 485.4h4v13.8h-4zM424.93 485.4h4v13.8h-4zM430.39 485.4h4v13.8h-4zM435.86 485.4h4v13.8h-4zM441.32 485.4h4v13.8h-4zM446.79 485.4h4v13.8h-4zM452.26 485.4h4v13.8h-4zM457.72 485.4h4v13.8h-4zM463.19 485.4h4v13.8h-4zM468.66 485.4h4v13.8h-4zM474.12 485.4h4v13.8h-4zM479.59 485.4h4v13.8h-4zM485.06 485.4h4v13.8h-4zM490.52 485.4h4v13.8h-4zM495.99 485.4h4v13.8h-4zM501.46 485.4h4v13.8h-4zM506.92 485.4h4v13.8h-4zM512.39 485.4h4v13.8h-4zM517.86 485.4h4v13.8h-4zM523.32 485.4h4v13.8h-4zM528.79 485.4h4v13.8h-4zM534.26 485.4h4v13.8h-4zM539.72 485.4h4v13.8h-4zM545.19 485.4h4v13.8h-4zM550.65 485.4h4v13.8h-4zM556.12 485.4h4v13.8h-4zM561.59 485.4h4v13.8h-4zM567.05 485.4h4v13.8h-4zM572.52 485.4h4v13.8h-4zM577.99 485.4h4v13.8h-4zM583.45 485.4h4v13.8h-4zM588.92 485.4h4v13.8h-4zM594.39 485.4h4v13.8h-4zM599.85 485.4h4v13.8h-4zM605.32 485.4h4v13.8h-4zM610.79 485.4h4v13.8h-4zM616.25 485.4h4v13.8h-4zM621.72 485.4h4v13.8h-4zM627.19 485.4h4v13.8h-4zM632.65 485.4h4v13.8h-4zM638.12 485.4h4v13.8h-4zM643.59 485.4h4v13.8h-4zM649.05 485.4h4v13.8h-4zM654.52 485.4h4v13.8h-4zM659.99 485.4h4v13.8h-4zM665.45 485.4h4v13.8h-4zM670.92 485.4h4v13.8h-4zM676.38 485.4h4v13.8h-4zM681.85 485.4h4v13.8h-4zM687.32 485.4h4v13.8h-4zM692.78 485.4h4v13.8h-4zM698.25 485.4h4v13.8h-4z" fill="#d7d7d7"/>
<path d="M211.73 485.4h4v13.8h-4zM217.2 485.4h4v13.8h-4zM222.66 485.4h4v13.8h-4zM228.13 485.4h4v13.8h-4zM233.6 485.4h4v13.8h-4z" fill="#e8171d"/>
<path d="M184.4 485.4h4v13.8h-4zM189.87 485.4h4v13.8h-4zM239.06 485.4h4v13.8h-4zM244.53 485.4h4v13.8h-4zM250 485.4h4v13.8h-4zM255.46 485.4h4v13.8h-4zM260.93 485.4h4v13.8h-4zM266.4 485.4h4v13.8h-4zM271.86 485.4h4v13.8h-4zM277.33 485.4h4v13.8h-4zM282.8 485.4h4v13.8h-4zM288.26 485.4h4v13.8h-4zM293.73 485.4h4v13.8h-4zM299.2 485.4h4v13.8h-4zM304.66 485.4h4v13.8h-4z" fill="#214ea1"/>
<path d="M315.6 490h4v4.6h-4zM321.06 490h4v4.6h-4z" fill="#5ab82c"/>
<text x="97.8" y="515.7" text-anchor="middle" font-size="12" class="t s3">B7-H2</text>
<text x="149.1" y="515.1" text-anchor="middle" font-size="12.2" class="t s3">1%*</text>
<path d="M168 505.4h4v13.8h-4zM173.47 505.4h4v13.8h-4zM178.93 505.4h4v13.8h-4zM184.4 505.4h4v13.8h-4zM189.87 505.4h4v13.8h-4zM195.33 505.4h4v13.8h-4zM200.8 505.4h4v13.8h-4zM206.27 505.4h4v13.8h-4zM211.73 505.4h4v13.8h-4zM217.2 505.4h4v13.8h-4zM222.66 505.4h4v13.8h-4zM228.13 505.4h4v13.8h-4zM233.6 505.4h4v13.8h-4zM239.06 505.4h4v13.8h-4zM244.53 505.4h4v13.8h-4zM250 505.4h4v13.8h-4zM255.46 505.4h4v13.8h-4zM260.93 505.4h4v13.8h-4zM266.4 505.4h4v13.8h-4zM271.86 505.4h4v13.8h-4zM277.33 505.4h4v13.8h-4zM282.8 505.4h4v13.8h-4zM288.26 505.4h4v13.8h-4zM293.73 505.4h4v13.8h-4zM299.2 505.4h4v13.8h-4zM304.66 505.4h4v13.8h-4zM310.13 505.4h4v13.8h-4zM315.6 505.4h4v13.8h-4zM321.06 505.4h4v13.8h-4zM348.39 505.4h4v13.8h-4zM353.86 505.4h4v13.8h-4zM359.33 505.4h4v13.8h-4zM364.79 505.4h4v13.8h-4zM370.26 505.4h4v13.8h-4zM375.73 505.4h4v13.8h-4zM381.19 505.4h4v13.8h-4zM386.66 505.4h4v13.8h-4zM392.13 505.4h4v13.8h-4zM397.59 505.4h4v13.8h-4zM403.06 505.4h4v13.8h-4zM408.53 505.4h4v13.8h-4zM413.99 505.4h4v13.8h-4zM419.46 505.4h4v13.8h-4zM424.93 505.4h4v13.8h-4zM430.39 505.4h4v13.8h-4zM435.86 505.4h4v13.8h-4zM441.32 505.4h4v13.8h-4zM446.79 505.4h4v13.8h-4zM452.26 505.4h4v13.8h-4zM457.72 505.4h4v13.8h-4zM463.19 505.4h4v13.8h-4zM468.66 505.4h4v13.8h-4zM474.12 505.4h4v13.8h-4zM479.59 505.4h4v13.8h-4zM485.06 505.4h4v13.8h-4zM490.52 505.4h4v13.8h-4zM495.99 505.4h4v13.8h-4zM501.46 505.4h4v13.8h-4zM506.92 505.4h4v13.8h-4zM512.39 505.4h4v13.8h-4zM517.86 505.4h4v13.8h-4zM523.32 505.4h4v13.8h-4zM528.79 505.4h4v13.8h-4zM534.26 505.4h4v13.8h-4zM539.72 505.4h4v13.8h-4zM545.19 505.4h4v13.8h-4zM550.65 505.4h4v13.8h-4zM556.12 505.4h4v13.8h-4zM561.59 505.4h4v13.8h-4zM567.05 505.4h4v13.8h-4zM572.52 505.4h4v13.8h-4zM577.99 505.4h4v13.8h-4zM583.45 505.4h4v13.8h-4zM588.92 505.4h4v13.8h-4zM594.39 505.4h4v13.8h-4zM599.85 505.4h4v13.8h-4zM605.32 505.4h4v13.8h-4zM610.79 505.4h4v13.8h-4zM616.25 505.4h4v13.8h-4zM621.72 505.4h4v13.8h-4zM627.19 505.4h4v13.8h-4zM632.65 505.4h4v13.8h-4zM638.12 505.4h4v13.8h-4zM643.59 505.4h4v13.8h-4zM649.05 505.4h4v13.8h-4zM654.52 505.4h4v13.8h-4zM659.99 505.4h4v13.8h-4zM665.45 505.4h4v13.8h-4zM670.92 505.4h4v13.8h-4zM676.38 505.4h4v13.8h-4zM681.85 505.4h4v13.8h-4zM687.32 505.4h4v13.8h-4zM692.78 505.4h4v13.8h-4zM698.25 505.4h4v13.8h-4z" fill="#d7d7d7"/>
<path d="M326.53 505.4h4v13.8h-4zM332 505.4h4v13.8h-4zM337.46 505.4h4v13.8h-4z" fill="#e8171d"/>
<path d="M342.93 505.4h4v13.8h-4z" fill="#214ea1"/>
<path d="M348.39 510h4v4.6h-4z" fill="#5ab82c"/>
<text x="97.8" y="535.7" text-anchor="middle" font-size="12" class="t s3">B7-H3</text>
<text x="146.1" y="535.1" text-anchor="middle" font-size="12.2" class="t s3">1.2%*</text>
<path d="M168 525.4h4v13.8h-4zM173.47 525.4h4v13.8h-4zM178.93 525.4h4v13.8h-4zM184.4 525.4h4v13.8h-4zM189.87 525.4h4v13.8h-4zM195.33 525.4h4v13.8h-4zM200.8 525.4h4v13.8h-4zM206.27 525.4h4v13.8h-4zM211.73 525.4h4v13.8h-4zM217.2 525.4h4v13.8h-4zM222.66 525.4h4v13.8h-4zM228.13 525.4h4v13.8h-4zM233.6 525.4h4v13.8h-4zM239.06 525.4h4v13.8h-4zM244.53 525.4h4v13.8h-4zM250 525.4h4v13.8h-4zM255.46 525.4h4v13.8h-4zM260.93 525.4h4v13.8h-4zM266.4 525.4h4v13.8h-4zM271.86 525.4h4v13.8h-4zM277.33 525.4h4v13.8h-4zM282.8 525.4h4v13.8h-4zM288.26 525.4h4v13.8h-4zM293.73 525.4h4v13.8h-4zM299.2 525.4h4v13.8h-4zM304.66 525.4h4v13.8h-4zM310.13 525.4h4v13.8h-4zM315.6 525.4h4v13.8h-4zM321.06 525.4h4v13.8h-4zM326.53 525.4h4v13.8h-4zM332 525.4h4v13.8h-4zM337.46 525.4h4v13.8h-4zM342.93 525.4h4v13.8h-4zM348.39 525.4h4v13.8h-4zM381.19 525.4h4v13.8h-4zM386.66 525.4h4v13.8h-4zM392.13 525.4h4v13.8h-4zM397.59 525.4h4v13.8h-4zM403.06 525.4h4v13.8h-4zM408.53 525.4h4v13.8h-4zM413.99 525.4h4v13.8h-4zM419.46 525.4h4v13.8h-4zM424.93 525.4h4v13.8h-4zM430.39 525.4h4v13.8h-4zM435.86 525.4h4v13.8h-4zM441.32 525.4h4v13.8h-4zM446.79 525.4h4v13.8h-4zM452.26 525.4h4v13.8h-4zM457.72 525.4h4v13.8h-4zM463.19 525.4h4v13.8h-4zM468.66 525.4h4v13.8h-4zM474.12 525.4h4v13.8h-4zM479.59 525.4h4v13.8h-4zM485.06 525.4h4v13.8h-4zM490.52 525.4h4v13.8h-4zM495.99 525.4h4v13.8h-4zM501.46 525.4h4v13.8h-4zM506.92 525.4h4v13.8h-4zM512.39 525.4h4v13.8h-4zM517.86 525.4h4v13.8h-4zM523.32 525.4h4v13.8h-4zM528.79 525.4h4v13.8h-4zM534.26 525.4h4v13.8h-4zM539.72 525.4h4v13.8h-4zM545.19 525.4h4v13.8h-4zM550.65 525.4h4v13.8h-4zM556.12 525.4h4v13.8h-4zM561.59 525.4h4v13.8h-4zM567.05 525.4h4v13.8h-4zM572.52 525.4h4v13.8h-4zM577.99 525.4h4v13.8h-4zM583.45 525.4h4v13.8h-4zM588.92 525.4h4v13.8h-4zM594.39 525.4h4v13.8h-4zM599.85 525.4h4v13.8h-4zM605.32 525.4h4v13.8h-4zM610.79 525.4h4v13.8h-4zM616.25 525.4h4v13.8h-4zM621.72 525.4h4v13.8h-4zM627.19 525.4h4v13.8h-4zM632.65 525.4h4v13.8h-4zM638.12 525.4h4v13.8h-4zM643.59 525.4h4v13.8h-4zM649.05 525.4h4v13.8h-4zM654.52 525.4h4v13.8h-4zM659.99 525.4h4v13.8h-4zM665.45 525.4h4v13.8h-4zM670.92 525.4h4v13.8h-4zM676.38 525.4h4v13.8h-4zM681.85 525.4h4v13.8h-4zM687.32 525.4h4v13.8h-4zM692.78 525.4h4v13.8h-4zM698.25 525.4h4v13.8h-4z" fill="#d7d7d7"/>
<path d="M353.86 525.4h4v13.8h-4zM359.33 525.4h4v13.8h-4zM364.79 525.4h4v13.8h-4z" fill="#e8171d"/>
<path d="M370.26 525.4h4v13.8h-4zM375.73 525.4h4v13.8h-4z" fill="#214ea1"/>
<path d="M381.19 530h4v4.6h-4z" fill="#f4bd84"/>
<text x="97.8" y="555.7" text-anchor="middle" font-size="12" class="t s3">B7-H4</text>
<text x="146.1" y="555.1" text-anchor="middle" font-size="12.2" class="t s3">2.9%*</text>
<path d="M168 545.4h4v13.8h-4zM173.47 545.4h4v13.8h-4zM178.93 545.4h4v13.8h-4zM189.87 545.4h4v13.8h-4zM195.33 545.4h4v13.8h-4zM200.8 545.4h4v13.8h-4zM206.27 545.4h4v13.8h-4zM211.73 545.4h4v13.8h-4zM217.2 545.4h4v13.8h-4zM222.66 545.4h4v13.8h-4zM228.13 545.4h4v13.8h-4zM233.6 545.4h4v13.8h-4zM244.53 545.4h4v13.8h-4zM250 545.4h4v13.8h-4zM255.46 545.4h4v13.8h-4zM260.93 545.4h4v13.8h-4zM266.4 545.4h4v13.8h-4zM271.86 545.4h4v13.8h-4zM277.33 545.4h4v13.8h-4zM282.8 545.4h4v13.8h-4zM288.26 545.4h4v13.8h-4zM293.73 545.4h4v13.8h-4zM299.2 545.4h4v13.8h-4zM304.66 545.4h4v13.8h-4zM310.13 545.4h4v13.8h-4zM315.6 545.4h4v13.8h-4zM321.06 545.4h4v13.8h-4zM326.53 545.4h4v13.8h-4zM332 545.4h4v13.8h-4zM337.46 545.4h4v13.8h-4zM342.93 545.4h4v13.8h-4zM348.39 545.4h4v13.8h-4zM353.86 545.4h4v13.8h-4zM359.33 545.4h4v13.8h-4zM364.79 545.4h4v13.8h-4zM370.26 545.4h4v13.8h-4zM375.73 545.4h4v13.8h-4zM381.19 545.4h4v13.8h-4zM446.79 545.4h4v13.8h-4zM452.26 545.4h4v13.8h-4zM457.72 545.4h4v13.8h-4zM463.19 545.4h4v13.8h-4zM468.66 545.4h4v13.8h-4zM474.12 545.4h4v13.8h-4zM479.59 545.4h4v13.8h-4zM485.06 545.4h4v13.8h-4zM490.52 545.4h4v13.8h-4zM495.99 545.4h4v13.8h-4zM501.46 545.4h4v13.8h-4zM506.92 545.4h4v13.8h-4zM512.39 545.4h4v13.8h-4zM517.86 545.4h4v13.8h-4zM523.32 545.4h4v13.8h-4zM528.79 545.4h4v13.8h-4zM534.26 545.4h4v13.8h-4zM539.72 545.4h4v13.8h-4zM545.19 545.4h4v13.8h-4zM550.65 545.4h4v13.8h-4zM556.12 545.4h4v13.8h-4zM561.59 545.4h4v13.8h-4zM567.05 545.4h4v13.8h-4zM572.52 545.4h4v13.8h-4zM577.99 545.4h4v13.8h-4zM583.45 545.4h4v13.8h-4zM588.92 545.4h4v13.8h-4zM594.39 545.4h4v13.8h-4zM599.85 545.4h4v13.8h-4zM605.32 545.4h4v13.8h-4zM610.79 545.4h4v13.8h-4zM616.25 545.4h4v13.8h-4zM621.72 545.4h4v13.8h-4zM627.19 545.4h4v13.8h-4zM632.65 545.4h4v13.8h-4zM638.12 545.4h4v13.8h-4zM643.59 545.4h4v13.8h-4zM649.05 545.4h4v13.8h-4zM654.52 545.4h4v13.8h-4zM659.99 545.4h4v13.8h-4zM665.45 545.4h4v13.8h-4zM670.92 545.4h4v13.8h-4zM676.38 545.4h4v13.8h-4zM681.85 545.4h4v13.8h-4zM687.32 545.4h4v13.8h-4zM692.78 545.4h4v13.8h-4zM698.25 545.4h4v13.8h-4z" fill="#d7d7d7"/>
<path d="M386.66 545.4h4v13.8h-4zM392.13 545.4h4v13.8h-4z" fill="#e8171d"/>
<path d="M184.4 545.4h4v13.8h-4zM239.06 545.4h4v13.8h-4zM397.59 545.4h4v13.8h-4zM403.06 545.4h4v13.8h-4zM408.53 545.4h4v13.8h-4zM413.99 545.4h4v13.8h-4zM419.46 545.4h4v13.8h-4zM424.93 545.4h4v13.8h-4zM430.39 545.4h4v13.8h-4zM435.86 545.4h4v13.8h-4zM441.32 545.4h4v13.8h-4z" fill="#214ea1"/>
<path d="M446.79 550h4v4.6h-4zM452.26 550h4v4.6h-4z" fill="#5ab82c"/>
<text x="97.8" y="575.7" text-anchor="middle" font-size="12" class="t s3">B7-H5</text>
<text x="146.1" y="575.1" text-anchor="middle" font-size="12.2" class="t s3">0.8%*</text>
<path d="M168 565.4h4v13.8h-4zM173.47 565.4h4v13.8h-4zM178.93 565.4h4v13.8h-4zM184.4 565.4h4v13.8h-4zM189.87 565.4h4v13.8h-4zM195.33 565.4h4v13.8h-4zM200.8 565.4h4v13.8h-4zM206.27 565.4h4v13.8h-4zM211.73 565.4h4v13.8h-4zM217.2 565.4h4v13.8h-4zM222.66 565.4h4v13.8h-4zM228.13 565.4h4v13.8h-4zM233.6 565.4h4v13.8h-4zM239.06 565.4h4v13.8h-4zM244.53 565.4h4v13.8h-4zM250 565.4h4v13.8h-4zM255.46 565.4h4v13.8h-4zM260.93 565.4h4v13.8h-4zM266.4 565.4h4v13.8h-4zM271.86 565.4h4v13.8h-4zM277.33 565.4h4v13.8h-4zM282.8 565.4h4v13.8h-4zM288.26 565.4h4v13.8h-4zM293.73 565.4h4v13.8h-4zM299.2 565.4h4v13.8h-4zM304.66 565.4h4v13.8h-4zM310.13 565.4h4v13.8h-4zM315.6 565.4h4v13.8h-4zM321.06 565.4h4v13.8h-4zM326.53 565.4h4v13.8h-4zM332 565.4h4v13.8h-4zM337.46 565.4h4v13.8h-4zM342.93 565.4h4v13.8h-4zM348.39 565.4h4v13.8h-4zM353.86 565.4h4v13.8h-4zM359.33 565.4h4v13.8h-4zM364.79 565.4h4v13.8h-4zM370.26 565.4h4v13.8h-4zM375.73 565.4h4v13.8h-4zM381.19 565.4h4v13.8h-4zM386.66 565.4h4v13.8h-4zM392.13 565.4h4v13.8h-4zM397.59 565.4h4v13.8h-4zM403.06 565.4h4v13.8h-4zM408.53 565.4h4v13.8h-4zM413.99 565.4h4v13.8h-4zM419.46 565.4h4v13.8h-4zM424.93 565.4h4v13.8h-4zM430.39 565.4h4v13.8h-4zM435.86 565.4h4v13.8h-4zM441.32 565.4h4v13.8h-4zM446.79 565.4h4v13.8h-4zM452.26 565.4h4v13.8h-4zM479.59 565.4h4v13.8h-4zM485.06 565.4h4v13.8h-4zM490.52 565.4h4v13.8h-4zM495.99 565.4h4v13.8h-4zM501.46 565.4h4v13.8h-4zM506.92 565.4h4v13.8h-4zM512.39 565.4h4v13.8h-4zM517.86 565.4h4v13.8h-4zM523.32 565.4h4v13.8h-4zM528.79 565.4h4v13.8h-4zM534.26 565.4h4v13.8h-4zM539.72 565.4h4v13.8h-4zM545.19 565.4h4v13.8h-4zM550.65 565.4h4v13.8h-4zM556.12 565.4h4v13.8h-4zM561.59 565.4h4v13.8h-4zM567.05 565.4h4v13.8h-4zM572.52 565.4h4v13.8h-4zM577.99 565.4h4v13.8h-4zM583.45 565.4h4v13.8h-4zM588.92 565.4h4v13.8h-4zM594.39 565.4h4v13.8h-4zM599.85 565.4h4v13.8h-4zM605.32 565.4h4v13.8h-4zM610.79 565.4h4v13.8h-4zM616.25 565.4h4v13.8h-4zM621.72 565.4h4v13.8h-4zM627.19 565.4h4v13.8h-4zM632.65 565.4h4v13.8h-4zM638.12 565.4h4v13.8h-4zM643.59 565.4h4v13.8h-4zM649.05 565.4h4v13.8h-4zM654.52 565.4h4v13.8h-4zM659.99 565.4h4v13.8h-4zM665.45 565.4h4v13.8h-4zM670.92 565.4h4v13.8h-4zM676.38 565.4h4v13.8h-4zM681.85 565.4h4v13.8h-4zM687.32 565.4h4v13.8h-4zM692.78 565.4h4v13.8h-4zM698.25 565.4h4v13.8h-4z" fill="#d7d7d7"/>
<path d="M457.72 565.4h4v13.8h-4zM463.19 565.4h4v13.8h-4zM468.66 565.4h4v13.8h-4z" fill="#e8171d"/>
<path d="M474.12 565.4h4v13.8h-4z" fill="#214ea1"/>
<text x="97.8" y="595.7" text-anchor="middle" font-size="12" class="t s3">B7-H6</text>
<text x="146.1" y="595.1" text-anchor="middle" font-size="12.2" class="t s3">0.6%*</text>
<path d="M168 585.4h4v13.8h-4zM173.47 585.4h4v13.8h-4zM178.93 585.4h4v13.8h-4zM184.4 585.4h4v13.8h-4zM189.87 585.4h4v13.8h-4zM195.33 585.4h4v13.8h-4zM200.8 585.4h4v13.8h-4zM206.27 585.4h4v13.8h-4zM211.73 585.4h4v13.8h-4zM217.2 585.4h4v13.8h-4zM222.66 585.4h4v13.8h-4zM228.13 585.4h4v13.8h-4zM233.6 585.4h4v13.8h-4zM239.06 585.4h4v13.8h-4zM244.53 585.4h4v13.8h-4zM250 585.4h4v13.8h-4zM255.46 585.4h4v13.8h-4zM260.93 585.4h4v13.8h-4zM266.4 585.4h4v13.8h-4zM271.86 585.4h4v13.8h-4zM277.33 585.4h4v13.8h-4zM282.8 585.4h4v13.8h-4zM288.26 585.4h4v13.8h-4zM293.73 585.4h4v13.8h-4zM299.2 585.4h4v13.8h-4zM304.66 585.4h4v13.8h-4zM310.13 585.4h4v13.8h-4zM315.6 585.4h4v13.8h-4zM321.06 585.4h4v13.8h-4zM326.53 585.4h4v13.8h-4zM332 585.4h4v13.8h-4zM337.46 585.4h4v13.8h-4zM342.93 585.4h4v13.8h-4zM348.39 585.4h4v13.8h-4zM353.86 585.4h4v13.8h-4zM359.33 585.4h4v13.8h-4zM364.79 585.4h4v13.8h-4zM370.26 585.4h4v13.8h-4zM375.73 585.4h4v13.8h-4zM381.19 585.4h4v13.8h-4zM386.66 585.4h4v13.8h-4zM392.13 585.4h4v13.8h-4zM403.06 585.4h4v13.8h-4zM408.53 585.4h4v13.8h-4zM413.99 585.4h4v13.8h-4zM419.46 585.4h4v13.8h-4zM424.93 585.4h4v13.8h-4zM430.39 585.4h4v13.8h-4zM435.86 585.4h4v13.8h-4zM441.32 585.4h4v13.8h-4zM446.79 585.4h4v13.8h-4zM452.26 585.4h4v13.8h-4zM457.72 585.4h4v13.8h-4zM463.19 585.4h4v13.8h-4zM468.66 585.4h4v13.8h-4zM474.12 585.4h4v13.8h-4zM490.52 585.4h4v13.8h-4zM495.99 585.4h4v13.8h-4zM501.46 585.4h4v13.8h-4zM506.92 585.4h4v13.8h-4zM512.39 585.4h4v13.8h-4zM517.86 585.4h4v13.8h-4zM523.32 585.4h4v13.8h-4zM528.79 585.4h4v13.8h-4zM534.26 585.4h4v13.8h-4zM539.72 585.4h4v13.8h-4zM545.19 585.4h4v13.8h-4zM550.65 585.4h4v13.8h-4zM556.12 585.4h4v13.8h-4zM561.59 585.4h4v13.8h-4zM567.05 585.4h4v13.8h-4zM572.52 585.4h4v13.8h-4zM577.99 585.4h4v13.8h-4zM583.45 585.4h4v13.8h-4zM588.92 585.4h4v13.8h-4zM594.39 585.4h4v13.8h-4zM599.85 585.4h4v13.8h-4zM605.32 585.4h4v13.8h-4zM610.79 585.4h4v13.8h-4zM616.25 585.4h4v13.8h-4zM621.72 585.4h4v13.8h-4zM627.19 585.4h4v13.8h-4zM632.65 585.4h4v13.8h-4zM638.12 585.4h4v13.8h-4zM643.59 585.4h4v13.8h-4zM649.05 585.4h4v13.8h-4zM654.52 585.4h4v13.8h-4zM659.99 585.4h4v13.8h-4zM665.45 585.4h4v13.8h-4zM670.92 585.4h4v13.8h-4zM676.38 585.4h4v13.8h-4zM681.85 585.4h4v13.8h-4zM687.32 585.4h4v13.8h-4zM692.78 585.4h4v13.8h-4zM698.25 585.4h4v13.8h-4z" fill="#d7d7d7"/>
<path d="M479.59 585.4h4v13.8h-4z" fill="#e8171d"/>
<path d="M397.59 585.4h4v13.8h-4zM485.06 585.4h4v13.8h-4z" fill="#214ea1"/>
<text x="97.8" y="615.7" text-anchor="middle" font-size="12" class="t s3">B7-H7</text>
<text x="146.1" y="615.1" text-anchor="middle" font-size="12.2" class="t s3">1.2%*</text>
<path d="M178.93 605.4h4v13.8h-4zM189.87 605.4h4v13.8h-4zM195.33 605.4h4v13.8h-4zM200.8 605.4h4v13.8h-4zM206.27 605.4h4v13.8h-4zM211.73 605.4h4v13.8h-4zM217.2 605.4h4v13.8h-4zM222.66 605.4h4v13.8h-4zM228.13 605.4h4v13.8h-4zM233.6 605.4h4v13.8h-4zM239.06 605.4h4v13.8h-4zM244.53 605.4h4v13.8h-4zM250 605.4h4v13.8h-4zM255.46 605.4h4v13.8h-4zM260.93 605.4h4v13.8h-4zM266.4 605.4h4v13.8h-4zM271.86 605.4h4v13.8h-4zM277.33 605.4h4v13.8h-4zM282.8 605.4h4v13.8h-4zM288.26 605.4h4v13.8h-4zM293.73 605.4h4v13.8h-4zM299.2 605.4h4v13.8h-4zM304.66 605.4h4v13.8h-4zM310.13 605.4h4v13.8h-4zM315.6 605.4h4v13.8h-4zM321.06 605.4h4v13.8h-4zM326.53 605.4h4v13.8h-4zM332 605.4h4v13.8h-4zM337.46 605.4h4v13.8h-4zM342.93 605.4h4v13.8h-4zM348.39 605.4h4v13.8h-4zM353.86 605.4h4v13.8h-4zM359.33 605.4h4v13.8h-4zM364.79 605.4h4v13.8h-4zM370.26 605.4h4v13.8h-4zM375.73 605.4h4v13.8h-4zM386.66 605.4h4v13.8h-4zM392.13 605.4h4v13.8h-4zM397.59 605.4h4v13.8h-4zM403.06 605.4h4v13.8h-4zM408.53 605.4h4v13.8h-4zM413.99 605.4h4v13.8h-4zM419.46 605.4h4v13.8h-4zM424.93 605.4h4v13.8h-4zM430.39 605.4h4v13.8h-4zM435.86 605.4h4v13.8h-4zM441.32 605.4h4v13.8h-4zM446.79 605.4h4v13.8h-4zM452.26 605.4h4v13.8h-4zM457.72 605.4h4v13.8h-4zM463.19 605.4h4v13.8h-4zM468.66 605.4h4v13.8h-4zM474.12 605.4h4v13.8h-4zM479.59 605.4h4v13.8h-4zM485.06 605.4h4v13.8h-4zM495.99 605.4h4v13.8h-4zM501.46 605.4h4v13.8h-4zM506.92 605.4h4v13.8h-4zM512.39 605.4h4v13.8h-4zM517.86 605.4h4v13.8h-4zM523.32 605.4h4v13.8h-4zM528.79 605.4h4v13.8h-4zM534.26 605.4h4v13.8h-4zM539.72 605.4h4v13.8h-4zM545.19 605.4h4v13.8h-4zM550.65 605.4h4v13.8h-4zM556.12 605.4h4v13.8h-4zM561.59 605.4h4v13.8h-4zM567.05 605.4h4v13.8h-4zM572.52 605.4h4v13.8h-4zM577.99 605.4h4v13.8h-4zM583.45 605.4h4v13.8h-4zM588.92 605.4h4v13.8h-4zM594.39 605.4h4v13.8h-4zM599.85 605.4h4v13.8h-4zM605.32 605.4h4v13.8h-4zM610.79 605.4h4v13.8h-4zM616.25 605.4h4v13.8h-4zM621.72 605.4h4v13.8h-4zM627.19 605.4h4v13.8h-4zM632.65 605.4h4v13.8h-4zM638.12 605.4h4v13.8h-4zM643.59 605.4h4v13.8h-4zM649.05 605.4h4v13.8h-4zM654.52 605.4h4v13.8h-4zM659.99 605.4h4v13.8h-4zM665.45 605.4h4v13.8h-4zM670.92 605.4h4v13.8h-4zM676.38 605.4h4v13.8h-4zM681.85 605.4h4v13.8h-4zM687.32 605.4h4v13.8h-4zM692.78 605.4h4v13.8h-4zM698.25 605.4h4v13.8h-4z" fill="#d7d7d7"/>
<path d="M168 605.4h4v13.8h-4zM173.47 605.4h4v13.8h-4zM381.19 605.4h4v13.8h-4zM490.52 605.4h4v13.8h-4z" fill="#e8171d"/>
<path d="M184.4 605.4h4v13.8h-4z" fill="#214ea1"/>
<path d="M495.99 610h4v4.6h-4z" fill="#5ab82c"/>
<text x="415.4" y="660.5" text-anchor="middle" font-size="29.4" class="t s3">LUSC</text>
<text x="162.2" y="690.7" text-anchor="end" font-size="11" class="t s3">Profiled in Mutations</text>
<text x="162.2" y="707.2" text-anchor="end" font-size="11" class="t s3">Putative copy-number alterations</text>
<path d="M167.1 687.95H696.95" stroke="#d2d2d2" stroke-width="1.3" stroke-dasharray="2.75 1.83" stroke-dashoffset="-0.2" fill="none"/>
<path d="M167.1 682.2h3.15v11.5h-3.15zM176.26 682.2h3.15v11.5h-3.15zM185.42 682.2h3.15v11.5h-3.15zM190 682.2h3.15v11.5h-3.15zM194.58 682.2h3.15v11.5h-3.15zM199.16 682.2h3.15v11.5h-3.15zM212.9 682.2h3.15v11.5h-3.15zM222.06 682.2h3.15v11.5h-3.15zM244.96 682.2h3.15v11.5h-3.15zM249.54 682.2h3.15v11.5h-3.15zM254.12 682.2h3.15v11.5h-3.15zM258.7 682.2h3.15v11.5h-3.15zM263.28 682.2h3.15v11.5h-3.15zM277.02 682.2h3.15v11.5h-3.15zM281.6 682.2h3.15v11.5h-3.15zM286.18 682.2h3.15v11.5h-3.15zM327.4 682.2h3.15v11.5h-3.15zM350.3 682.2h3.15v11.5h-3.15zM354.88 682.2h3.15v11.5h-3.15zM359.46 682.2h3.15v11.5h-3.15zM368.62 682.2h3.15v11.5h-3.15zM373.2 682.2h3.15v11.5h-3.15zM377.78 682.2h3.15v11.5h-3.15zM382.36 682.2h3.15v11.5h-3.15zM400.68 682.2h3.15v11.5h-3.15zM405.26 682.2h3.15v11.5h-3.15zM409.84 682.2h3.15v11.5h-3.15zM414.42 682.2h3.15v11.5h-3.15zM419 682.2h3.15v11.5h-3.15zM423.58 682.2h3.15v11.5h-3.15zM432.74 682.2h3.15v11.5h-3.15zM437.32 682.2h3.15v11.5h-3.15zM483.12 682.2h3.15v11.5h-3.15zM487.7 682.2h3.15v11.5h-3.15zM501.44 682.2h3.15v11.5h-3.15zM524.34 682.2h3.15v11.5h-3.15zM533.5 682.2h3.15v11.5h-3.15zM538.08 682.2h3.15v11.5h-3.15zM542.66 682.2h3.15v11.5h-3.15zM551.82 682.2h3.15v11.5h-3.15zM556.4 682.2h3.15v11.5h-3.15zM560.98 682.2h3.15v11.5h-3.15zM579.3 682.2h3.15v11.5h-3.15zM611.36 682.2h3.15v11.5h-3.15zM615.94 682.2h3.15v11.5h-3.15zM620.52 682.2h3.15v11.5h-3.15zM625.1 682.2h3.15v11.5h-3.15zM629.68 682.2h3.15v11.5h-3.15zM638.84 682.2h3.15v11.5h-3.15zM643.42 682.2h3.15v11.5h-3.15zM652.58 682.2h3.15v11.5h-3.15zM661.74 682.2h3.15v11.5h-3.15zM680.06 682.2h3.15v11.5h-3.15zM684.64 682.2h3.15v11.5h-3.15zM689.22 682.2h3.15v11.5h-3.15z" fill="#289a75"/>
<path d="M167.1 699.1h3.15v11.5h-3.15zM171.68 699.1h3.15v11.5h-3.15zM176.26 699.1h3.15v11.5h-3.15zM180.84 699.1h3.15v11.5h-3.15zM185.42 699.1h3.15v11.5h-3.15zM190 699.1h3.15v11.5h-3.15zM194.58 699.1h3.15v11.5h-3.15zM199.16 699.1h3.15v11.5h-3.15zM203.74 699.1h3.15v11.5h-3.15zM208.32 699.1h3.15v11.5h-3.15zM212.9 699.1h3.15v11.5h-3.15zM217.48 699.1h3.15v11.5h-3.15zM222.06 699.1h3.15v11.5h-3.15zM226.64 699.1h3.15v11.5h-3.15zM231.22 699.1h3.15v11.5h-3.15zM235.8 699.1h3.15v11.5h-3.15zM240.38 699.1h3.15v11.5h-3.15zM244.96 699.1h3.15v11.5h-3.15zM249.54 699.1h3.15v11.5h-3.15zM254.12 699.1h3.15v11.5h-3.15zM258.7 699.1h3.15v11.5h-3.15zM263.28 699.1h3.15v11.5h-3.15zM267.86 699.1h3.15v11.5h-3.15zM272.44 699.1h3.15v11.5h-3.15zM277.02 699.1h3.15v11.5h-3.15zM281.6 699.1h3.15v11.5h-3.15zM286.18 699.1h3.15v11.5h-3.15zM290.76 699.1h3.15v11.5h-3.15zM295.34 699.1h3.15v11.5h-3.15zM299.92 699.1h3.15v11.5h-3.15zM304.5 699.1h3.15v11.5h-3.15zM309.08 699.1h3.15v11.5h-3.15zM313.66 699.1h3.15v11.5h-3.15zM318.24 699.1h3.15v11.5h-3.15zM322.82 699.1h3.15v11.5h-3.15zM327.4 699.1h3.15v11.5h-3.15zM331.98 699.1h3.15v11.5h-3.15zM336.56 699.1h3.15v11.5h-3.15zM341.14 699.1h3.15v11.5h-3.15zM345.72 699.1h3.15v11.5h-3.15zM350.3 699.1h3.15v11.5h-3.15zM354.88 699.1h3.15v11.5h-3.15zM359.46 699.1h3.15v11.5h-3.15zM364.04 699.1h3.15v11.5h-3.15zM368.62 699.1h3.15v11.5h-3.15zM373.2 699.1h3.15v11.5h-3.15zM377.78 699.1h3.15v11.5h-3.15zM382.36 699.1h3.15v11.5h-3.15zM386.94 699.1h3.15v11.5h-3.15zM391.52 699.1h3.15v11.5h-3.15zM396.1 699.1h3.15v11.5h-3.15zM400.68 699.1h3.15v11.5h-3.15zM405.26 699.1h3.15v11.5h-3.15zM409.84 699.1h3.15v11.5h-3.15zM414.42 699.1h3.15v11.5h-3.15zM419 699.1h3.15v11.5h-3.15zM423.58 699.1h3.15v11.5h-3.15zM428.16 699.1h3.15v11.5h-3.15zM432.74 699.1h3.15v11.5h-3.15zM437.32 699.1h3.15v11.5h-3.15zM441.9 699.1h3.15v11.5h-3.15zM446.48 699.1h3.15v11.5h-3.15zM451.06 699.1h3.15v11.5h-3.15zM455.64 699.1h3.15v11.5h-3.15zM460.22 699.1h3.15v11.5h-3.15zM464.8 699.1h3.15v11.5h-3.15zM469.38 699.1h3.15v11.5h-3.15zM473.96 699.1h3.15v11.5h-3.15zM478.54 699.1h3.15v11.5h-3.15zM483.12 699.1h3.15v11.5h-3.15zM487.7 699.1h3.15v11.5h-3.15zM492.28 699.1h3.15v11.5h-3.15zM496.86 699.1h3.15v11.5h-3.15zM501.44 699.1h3.15v11.5h-3.15zM506.02 699.1h3.15v11.5h-3.15zM510.6 699.1h3.15v11.5h-3.15zM515.18 699.1h3.15v11.5h-3.15zM519.76 699.1h3.15v11.5h-3.15zM524.34 699.1h3.15v11.5h-3.15zM528.92 699.1h3.15v11.5h-3.15zM533.5 699.1h3.15v11.5h-3.15zM538.08 699.1h3.15v11.5h-3.15zM542.66 699.1h3.15v11.5h-3.15zM547.24 699.1h3.15v11.5h-3.15zM551.82 699.1h3.15v11.5h-3.15zM556.4 699.1h3.15v11.5h-3.15zM560.98 699.1h3.15v11.5h-3.15zM565.56 699.1h3.15v11.5h-3.15zM570.14 699.1h3.15v11.5h-3.15zM574.72 699.1h3.15v11.5h-3.15zM579.3 699.1h3.15v11.5h-3.15zM583.88 699.1h3.15v11.5h-3.15zM588.46 699.1h3.15v11.5h-3.15zM593.04 699.1h3.15v11.5h-3.15zM597.62 699.1h3.15v11.5h-3.15zM602.2 699.1h3.15v11.5h-3.15zM606.78 699.1h3.15v11.5h-3.15zM611.36 699.1h3.15v11.5h-3.15zM615.94 699.1h3.15v11.5h-3.15zM620.52 699.1h3.15v11.5h-3.15zM625.1 699.1h3.15v11.5h-3.15zM629.68 699.1h3.15v11.5h-3.15zM634.26 699.1h3.15v11.5h-3.15zM638.84 699.1h3.15v11.5h-3.15zM643.42 699.1h3.15v11.5h-3.15zM648 699.1h3.15v11.5h-3.15zM652.58 699.1h3.15v11.5h-3.15zM657.16 699.1h3.15v11.5h-3.15zM661.74 699.1h3.15v11.5h-3.15zM666.32 699.1h3.15v11.5h-3.15zM670.9 699.1h3.15v11.5h-3.15zM675.48 699.1h3.15v11.5h-3.15zM680.06 699.1h3.15v11.5h-3.15zM684.64 699.1h3.15v11.5h-3.15zM689.22 699.1h3.15v11.5h-3.15zM693.8 699.1h3.15v11.5h-3.15z" fill="#289a75"/>
<text x="105.6" y="729.6" text-anchor="middle" font-size="12" class="t s3">B7-1</text>
<text x="149.6" y="728.2" text-anchor="middle" font-size="12.2" class="t s3">9%*</text>
<path d="M368.62 720.7h3.15v11.5h-3.15zM373.2 720.7h3.15v11.5h-3.15zM377.78 720.7h3.15v11.5h-3.15zM382.36 720.7h3.15v11.5h-3.15zM386.94 720.7h3.15v11.5h-3.15zM391.52 720.7h3.15v11.5h-3.15zM396.1 720.7h3.15v11.5h-3.15zM400.68 720.7h3.15v11.5h-3.15zM405.26 720.7h3.15v11.5h-3.15zM409.84 720.7h3.15v11.5h-3.15zM414.42 720.7h3.15v11.5h-3.15zM419 720.7h3.15v11.5h-3.15zM423.58 720.7h3.15v11.5h-3.15zM428.16 720.7h3.15v11.5h-3.15zM432.74 720.7h3.15v11.5h-3.15zM437.32 720.7h3.15v11.5h-3.15zM441.9 720.7h3.15v11.5h-3.15zM446.48 720.7h3.15v11.5h-3.15zM451.06 720.7h3.15v11.5h-3.15zM455.64 720.7h3.15v11.5h-3.15zM460.22 720.7h3.15v11.5h-3.15zM464.8 720.7h3.15v11.5h-3.15zM469.38 720.7h3.15v11.5h-3.15zM473.96 720.7h3.15v11.5h-3.15zM478.54 720.7h3.15v11.5h-3.15zM483.12 720.7h3.15v11.5h-3.15zM487.7 720.7h3.15v11.5h-3.15zM492.28 720.7h3.15v11.5h-3.15zM496.86 720.7h3.15v11.5h-3.15zM501.44 720.7h3.15v11.5h-3.15zM506.02 720.7h3.15v11.5h-3.15zM510.6 720.7h3.15v11.5h-3.15zM515.18 720.7h3.15v11.5h-3.15zM519.76 720.7h3.15v11.5h-3.15zM524.34 720.7h3.15v11.5h-3.15zM528.92 720.7h3.15v11.5h-3.15zM533.5 720.7h3.15v11.5h-3.15zM538.08 720.7h3.15v11.5h-3.15zM542.66 720.7h3.15v11.5h-3.15zM547.24 720.7h3.15v11.5h-3.15zM551.82 720.7h3.15v11.5h-3.15zM556.4 720.7h3.15v11.5h-3.15zM560.98 720.7h3.15v11.5h-3.15zM565.56 720.7h3.15v11.5h-3.15zM570.14 720.7h3.15v11.5h-3.15zM574.72 720.7h3.15v11.5h-3.15zM579.3 720.7h3.15v11.5h-3.15zM583.88 720.7h3.15v11.5h-3.15zM588.46 720.7h3.15v11.5h-3.15zM593.04 720.7h3.15v11.5h-3.15zM597.62 720.7h3.15v11.5h-3.15zM602.2 720.7h3.15v11.5h-3.15zM606.78 720.7h3.15v11.5h-3.15zM611.36 720.7h3.15v11.5h-3.15zM615.94 720.7h3.15v11.5h-3.15zM620.52 720.7h3.15v11.5h-3.15zM625.1 720.7h3.15v11.5h-3.15zM629.68 720.7h3.15v11.5h-3.15zM634.26 720.7h3.15v11.5h-3.15zM638.84 720.7h3.15v11.5h-3.15zM643.42 720.7h3.15v11.5h-3.15zM648 720.7h3.15v11.5h-3.15zM652.58 720.7h3.15v11.5h-3.15zM657.16 720.7h3.15v11.5h-3.15zM661.74 720.7h3.15v11.5h-3.15zM666.32 720.7h3.15v11.5h-3.15zM670.9 720.7h3.15v11.5h-3.15zM675.48 720.7h3.15v11.5h-3.15zM680.06 720.7h3.15v11.5h-3.15zM684.64 720.7h3.15v11.5h-3.15zM689.22 720.7h3.15v11.5h-3.15zM693.8 720.7h3.15v11.5h-3.15z" fill="#d7d7d7"/>
<path d="M167.1 720.7h3.15v11.5h-3.15zM171.68 720.7h3.15v11.5h-3.15zM176.26 720.7h3.15v11.5h-3.15zM180.84 720.7h3.15v11.5h-3.15zM185.42 720.7h3.15v11.5h-3.15zM190 720.7h3.15v11.5h-3.15zM194.58 720.7h3.15v11.5h-3.15zM199.16 720.7h3.15v11.5h-3.15zM203.74 720.7h3.15v11.5h-3.15zM208.32 720.7h3.15v11.5h-3.15zM212.9 720.7h3.15v11.5h-3.15zM217.48 720.7h3.15v11.5h-3.15zM222.06 720.7h3.15v11.5h-3.15zM226.64 720.7h3.15v11.5h-3.15zM231.22 720.7h3.15v11.5h-3.15zM235.8 720.7h3.15v11.5h-3.15zM240.38 720.7h3.15v11.5h-3.15zM244.96 720.7h3.15v11.5h-3.15zM249.54 720.7h3.15v11.5h-3.15zM254.12 720.7h3.15v11.5h-3.15zM258.7 720.7h3.15v11.5h-3.15zM263.28 720.7h3.15v11.5h-3.15zM267.86 720.7h3.15v11.5h-3.15zM272.44 720.7h3.15v11.5h-3.15zM277.02 720.7h3.15v11.5h-3.15zM281.6 720.7h3.15v11.5h-3.15zM286.18 720.7h3.15v11.5h-3.15zM290.76 720.7h3.15v11.5h-3.15zM295.34 720.7h3.15v11.5h-3.15zM299.92 720.7h3.15v11.5h-3.15zM304.5 720.7h3.15v11.5h-3.15zM309.08 720.7h3.15v11.5h-3.15zM313.66 720.7h3.15v11.5h-3.15zM318.24 720.7h3.15v11.5h-3.15zM322.82 720.7h3.15v11.5h-3.15zM327.4 720.7h3.15v11.5h-3.15zM331.98 720.7h3.15v11.5h-3.15zM336.56 720.7h3.15v11.5h-3.15zM341.14 720.7h3.15v11.5h-3.15zM345.72 720.7h3.15v11.5h-3.15zM350.3 720.7h3.15v11.5h-3.15zM354.88 720.7h3.15v11.5h-3.15z" fill="#e8171d"/>
<path d="M359.46 720.7h3.15v11.5h-3.15zM364.04 720.7h3.15v11.5h-3.15z" fill="#214ea1"/>
<path d="M368.62 724.3h3.15v4.3h-3.15zM373.2 724.3h3.15v4.3h-3.15z" fill="#5ab82c"/>
<text x="105.6" y="746.4" text-anchor="middle" font-size="12" class="t s3">B7-2</text>
<text x="148.2" y="745" text-anchor="middle" font-size="12.2" class="t s3">10%*</text>
<path d="M345.72 737.5h3.15v11.5h-3.15zM350.3 737.5h3.15v11.5h-3.15zM354.88 737.5h3.15v11.5h-3.15zM364.04 737.5h3.15v11.5h-3.15zM368.62 737.5h3.15v11.5h-3.15zM373.2 737.5h3.15v11.5h-3.15zM400.68 737.5h3.15v11.5h-3.15zM405.26 737.5h3.15v11.5h-3.15zM409.84 737.5h3.15v11.5h-3.15zM414.42 737.5h3.15v11.5h-3.15zM419 737.5h3.15v11.5h-3.15zM423.58 737.5h3.15v11.5h-3.15zM428.16 737.5h3.15v11.5h-3.15zM432.74 737.5h3.15v11.5h-3.15zM437.32 737.5h3.15v11.5h-3.15zM441.9 737.5h3.15v11.5h-3.15zM446.48 737.5h3.15v11.5h-3.15zM451.06 737.5h3.15v11.5h-3.15zM455.64 737.5h3.15v11.5h-3.15zM460.22 737.5h3.15v11.5h-3.15zM464.8 737.5h3.15v11.5h-3.15zM469.38 737.5h3.15v11.5h-3.15zM473.96 737.5h3.15v11.5h-3.15zM478.54 737.5h3.15v11.5h-3.15zM483.12 737.5h3.15v11.5h-3.15zM487.7 737.5h3.15v11.5h-3.15zM492.28 737.5h3.15v11.5h-3.15zM496.86 737.5h3.15v11.5h-3.15zM501.44 737.5h3.15v11.5h-3.15zM506.02 737.5h3.15v11.5h-3.15zM510.6 737.5h3.15v11.5h-3.15zM515.18 737.5h3.15v11.5h-3.15zM519.76 737.5h3.15v11.5h-3.15zM524.34 737.5h3.15v11.5h-3.15zM528.92 737.5h3.15v11.5h-3.15zM533.5 737.5h3.15v11.5h-3.15zM538.08 737.5h3.15v11.5h-3.15zM542.66 737.5h3.15v11.5h-3.15zM547.24 737.5h3.15v11.5h-3.15zM551.82 737.5h3.15v11.5h-3.15zM556.4 737.5h3.15v11.5h-3.15zM560.98 737.5h3.15v11.5h-3.15zM565.56 737.5h3.15v11.5h-3.15zM570.14 737.5h3.15v11.5h-3.15zM574.72 737.5h3.15v11.5h-3.15zM579.3 737.5h3.15v11.5h-3.15zM583.88 737.5h3.15v11.5h-3.15zM588.46 737.5h3.15v11.5h-3.15zM593.04 737.5h3.15v11.5h-3.15zM597.62 737.5h3.15v11.5h-3.15zM602.2 737.5h3.15v11.5h-3.15zM606.78 737.5h3.15v11.5h-3.15zM611.36 737.5h3.15v11.5h-3.15zM615.94 737.5h3.15v11.5h-3.15zM620.52 737.5h3.15v11.5h-3.15zM625.1 737.5h3.15v11.5h-3.15zM629.68 737.5h3.15v11.5h-3.15zM634.26 737.5h3.15v11.5h-3.15zM638.84 737.5h3.15v11.5h-3.15zM643.42 737.5h3.15v11.5h-3.15zM648 737.5h3.15v11.5h-3.15zM652.58 737.5h3.15v11.5h-3.15zM657.16 737.5h3.15v11.5h-3.15zM661.74 737.5h3.15v11.5h-3.15zM666.32 737.5h3.15v11.5h-3.15zM670.9 737.5h3.15v11.5h-3.15zM675.48 737.5h3.15v11.5h-3.15zM680.06 737.5h3.15v11.5h-3.15zM684.64 737.5h3.15v11.5h-3.15zM689.22 737.5h3.15v11.5h-3.15zM693.8 737.5h3.15v11.5h-3.15z" fill="#d7d7d7"/>
<path d="M167.1 737.5h3.15v11.5h-3.15zM171.68 737.5h3.15v11.5h-3.15zM176.26 737.5h3.15v11.5h-3.15zM180.84 737.5h3.15v11.5h-3.15zM185.42 737.5h3.15v11.5h-3.15zM190 737.5h3.15v11.5h-3.15zM194.58 737.5h3.15v11.5h-3.15zM199.16 737.5h3.15v11.5h-3.15zM203.74 737.5h3.15v11.5h-3.15zM208.32 737.5h3.15v11.5h-3.15zM212.9 737.5h3.15v11.5h-3.15zM217.48 737.5h3.15v11.5h-3.15zM222.06 737.5h3.15v11.5h-3.15zM226.64 737.5h3.15v11.5h-3.15zM231.22 737.5h3.15v11.5h-3.15zM235.8 737.5h3.15v11.5h-3.15zM240.38 737.5h3.15v11.5h-3.15zM244.96 737.5h3.15v11.5h-3.15zM249.54 737.5h3.15v11.5h-3.15zM254.12 737.5h3.15v11.5h-3.15zM258.7 737.5h3.15v11.5h-3.15zM263.28 737.5h3.15v11.5h-3.15zM267.86 737.5h3.15v11.5h-3.15zM272.44 737.5h3.15v11.5h-3.15zM277.02 737.5h3.15v11.5h-3.15zM281.6 737.5h3.15v11.5h-3.15zM286.18 737.5h3.15v11.5h-3.15zM290.76 737.5h3.15v11.5h-3.15zM295.34 737.5h3.15v11.5h-3.15zM299.92 737.5h3.15v11.5h-3.15zM304.5 737.5h3.15v11.5h-3.15zM309.08 737.5h3.15v11.5h-3.15zM313.66 737.5h3.15v11.5h-3.15zM318.24 737.5h3.15v11.5h-3.15zM322.82 737.5h3.15v11.5h-3.15zM327.4 737.5h3.15v11.5h-3.15zM331.98 737.5h3.15v11.5h-3.15zM336.56 737.5h3.15v11.5h-3.15zM341.14 737.5h3.15v11.5h-3.15zM377.78 737.5h3.15v11.5h-3.15zM382.36 737.5h3.15v11.5h-3.15zM386.94 737.5h3.15v11.5h-3.15zM391.52 737.5h3.15v11.5h-3.15zM396.1 737.5h3.15v11.5h-3.15z" fill="#e8171d"/>
<path d="M359.46 737.5h3.15v11.5h-3.15z" fill="#214ea1"/>
<path d="M400.68 741.1h3.15v4.3h-3.15zM405.26 741.1h3.15v4.3h-3.15zM409.84 741.1h3.15v4.3h-3.15z" fill="#5ab82c"/>
<text x="105.6" y="763.2" text-anchor="middle" font-size="12" class="t s3">B7-DC</text>
<text x="149.6" y="761.8" text-anchor="middle" font-size="12.2" class="t s3">5%*</text>
<path d="M180.84 754.3h3.15v11.5h-3.15zM185.42 754.3h3.15v11.5h-3.15zM190 754.3h3.15v11.5h-3.15zM194.58 754.3h3.15v11.5h-3.15zM199.16 754.3h3.15v11.5h-3.15zM203.74 754.3h3.15v11.5h-3.15zM208.32 754.3h3.15v11.5h-3.15zM212.9 754.3h3.15v11.5h-3.15zM217.48 754.3h3.15v11.5h-3.15zM222.06 754.3h3.15v11.5h-3.15zM226.64 754.3h3.15v11.5h-3.15zM231.22 754.3h3.15v11.5h-3.15zM235.8 754.3h3.15v11.5h-3.15zM240.38 754.3h3.15v11.5h-3.15zM244.96 754.3h3.15v11.5h-3.15zM249.54 754.3h3.15v11.5h-3.15zM254.12 754.3h3.15v11.5h-3.15zM258.7 754.3h3.15v11.5h-3.15zM263.28 754.3h3.15v11.5h-3.15zM267.86 754.3h3.15v11.5h-3.15zM272.44 754.3h3.15v11.5h-3.15zM277.02 754.3h3.15v11.5h-3.15zM281.6 754.3h3.15v11.5h-3.15zM286.18 754.3h3.15v11.5h-3.15zM290.76 754.3h3.15v11.5h-3.15zM295.34 754.3h3.15v11.5h-3.15zM299.92 754.3h3.15v11.5h-3.15zM304.5 754.3h3.15v11.5h-3.15zM309.08 754.3h3.15v11.5h-3.15zM313.66 754.3h3.15v11.5h-3.15zM318.24 754.3h3.15v11.5h-3.15zM322.82 754.3h3.15v11.5h-3.15zM327.4 754.3h3.15v11.5h-3.15zM331.98 754.3h3.15v11.5h-3.15zM336.56 754.3h3.15v11.5h-3.15zM341.14 754.3h3.15v11.5h-3.15zM350.3 754.3h3.15v11.5h-3.15zM354.88 754.3h3.15v11.5h-3.15zM359.46 754.3h3.15v11.5h-3.15zM364.04 754.3h3.15v11.5h-3.15zM373.2 754.3h3.15v11.5h-3.15zM382.36 754.3h3.15v11.5h-3.15zM386.94 754.3h3.15v11.5h-3.15zM391.52 754.3h3.15v11.5h-3.15zM396.1 754.3h3.15v11.5h-3.15zM400.68 754.3h3.15v11.5h-3.15zM405.26 754.3h3.15v11.5h-3.15zM409.84 754.3h3.15v11.5h-3.15zM510.6 754.3h3.15v11.5h-3.15zM515.18 754.3h3.15v11.5h-3.15zM519.76 754.3h3.15v11.5h-3.15zM524.34 754.3h3.15v11.5h-3.15zM528.92 754.3h3.15v11.5h-3.15zM533.5 754.3h3.15v11.5h-3.15zM538.08 754.3h3.15v11.5h-3.15zM542.66 754.3h3.15v11.5h-3.15zM547.24 754.3h3.15v11.5h-3.15zM551.82 754.3h3.15v11.5h-3.15zM556.4 754.3h3.15v11.5h-3.15zM560.98 754.3h3.15v11.5h-3.15zM565.56 754.3h3.15v11.5h-3.15zM570.14 754.3h3.15v11.5h-3.15zM574.72 754.3h3.15v11.5h-3.15zM579.3 754.3h3.15v11.5h-3.15zM583.88 754.3h3.15v11.5h-3.15zM588.46 754.3h3.15v11.5h-3.15zM593.04 754.3h3.15v11.5h-3.15zM597.62 754.3h3.15v11.5h-3.15zM602.2 754.3h3.15v11.5h-3.15zM606.78 754.3h3.15v11.5h-3.15zM611.36 754.3h3.15v11.5h-3.15zM615.94 754.3h3.15v11.5h-3.15zM620.52 754.3h3.15v11.5h-3.15zM625.1 754.3h3.15v11.5h-3.15zM629.68 754.3h3.15v11.5h-3.15zM634.26 754.3h3.15v11.5h-3.15zM638.84 754.3h3.15v11.5h-3.15zM643.42 754.3h3.15v11.5h-3.15zM648 754.3h3.15v11.5h-3.15zM652.58 754.3h3.15v11.5h-3.15zM657.16 754.3h3.15v11.5h-3.15zM661.74 754.3h3.15v11.5h-3.15zM666.32 754.3h3.15v11.5h-3.15zM670.9 754.3h3.15v11.5h-3.15zM675.48 754.3h3.15v11.5h-3.15zM680.06 754.3h3.15v11.5h-3.15zM684.64 754.3h3.15v11.5h-3.15zM689.22 754.3h3.15v11.5h-3.15zM693.8 754.3h3.15v11.5h-3.15z" fill="#d7d7d7"/>
<path d="M167.1 754.3h3.15v11.5h-3.15zM377.78 754.3h3.15v11.5h-3.15zM414.42 754.3h3.15v11.5h-3.15zM419 754.3h3.15v11.5h-3.15zM423.58 754.3h3.15v11.5h-3.15zM428.16 754.3h3.15v11.5h-3.15zM432.74 754.3h3.15v11.5h-3.15zM437.32 754.3h3.15v11.5h-3.15zM441.9 754.3h3.15v11.5h-3.15zM446.48 754.3h3.15v11.5h-3.15zM451.06 754.3h3.15v11.5h-3.15zM455.64 754.3h3.15v11.5h-3.15z" fill="#e8171d"/>
<path d="M171.68 754.3h3.15v11.5h-3.15zM176.26 754.3h3.15v11.5h-3.15zM345.72 754.3h3.15v11.5h-3.15zM368.62 754.3h3.15v11.5h-3.15zM460.22 754.3h3.15v11.5h-3.15zM464.8 754.3h3.15v11.5h-3.15zM469.38 754.3h3.15v11.5h-3.15zM473.96 754.3h3.15v11.5h-3.15zM478.54 754.3h3.15v11.5h-3.15zM483.12 754.3h3.15v11.5h-3.15zM487.7 754.3h3.15v11.5h-3.15zM492.28 754.3h3.15v11.5h-3.15zM496.86 754.3h3.15v11.5h-3.15zM501.44 754.3h3.15v11.5h-3.15zM506.02 754.3h3.15v11.5h-3.15z" fill="#214ea1"/>
<text x="105.6" y="780" text-anchor="middle" font-size="12" class="t s3">B7-H1</text>
<text x="149.6" y="778.6" text-anchor="middle" font-size="12.2" class="t s3">5%*</text>
<path d="M180.84 771.1h3.15v11.5h-3.15zM185.42 771.1h3.15v11.5h-3.15zM190 771.1h3.15v11.5h-3.15zM194.58 771.1h3.15v11.5h-3.15zM199.16 771.1h3.15v11.5h-3.15zM203.74 771.1h3.15v11.5h-3.15zM208.32 771.1h3.15v11.5h-3.15zM212.9 771.1h3.15v11.5h-3.15zM217.48 771.1h3.15v11.5h-3.15zM222.06 771.1h3.15v11.5h-3.15zM226.64 771.1h3.15v11.5h-3.15zM231.22 771.1h3.15v11.5h-3.15zM235.8 771.1h3.15v11.5h-3.15zM240.38 771.1h3.15v11.5h-3.15zM244.96 771.1h3.15v11.5h-3.15zM249.54 771.1h3.15v11.5h-3.15zM254.12 771.1h3.15v11.5h-3.15zM258.7 771.1h3.15v11.5h-3.15zM263.28 771.1h3.15v11.5h-3.15zM267.86 771.1h3.15v11.5h-3.15zM272.44 771.1h3.15v11.5h-3.15zM277.02 771.1h3.15v11.5h-3.15zM281.6 771.1h3.15v11.5h-3.15zM286.18 771.1h3.15v11.5h-3.15zM290.76 771.1h3.15v11.5h-3.15zM295.34 771.1h3.15v11.5h-3.15zM299.92 771.1h3.15v11.5h-3.15zM304.5 771.1h3.15v11.5h-3.15zM309.08 771.1h3.15v11.5h-3.15zM313.66 771.1h3.15v11.5h-3.15zM318.24 771.1h3.15v11.5h-3.15zM322.82 771.1h3.15v11.5h-3.15zM327.4 771.1h3.15v11.5h-3.15zM331.98 771.1h3.15v11.5h-3.15zM336.56 771.1h3.15v11.5h-3.15zM341.14 771.1h3.15v11.5h-3.15zM350.3 771.1h3.15v11.5h-3.15zM354.88 771.1h3.15v11.5h-3.15zM359.46 771.1h3.15v11.5h-3.15zM364.04 771.1h3.15v11.5h-3.15zM373.2 771.1h3.15v11.5h-3.15zM382.36 771.1h3.15v11.5h-3.15zM386.94 771.1h3.15v11.5h-3.15zM391.52 771.1h3.15v11.5h-3.15zM396.1 771.1h3.15v11.5h-3.15zM400.68 771.1h3.15v11.5h-3.15zM405.26 771.1h3.15v11.5h-3.15zM409.84 771.1h3.15v11.5h-3.15zM510.6 771.1h3.15v11.5h-3.15zM515.18 771.1h3.15v11.5h-3.15zM519.76 771.1h3.15v11.5h-3.15zM524.34 771.1h3.15v11.5h-3.15zM528.92 771.1h3.15v11.5h-3.15zM533.5 771.1h3.15v11.5h-3.15zM538.08 771.1h3.15v11.5h-3.15zM542.66 771.1h3.15v11.5h-3.15zM547.24 771.1h3.15v11.5h-3.15zM551.82 771.1h3.15v11.5h-3.15zM556.4 771.1h3.15v11.5h-3.15zM560.98 771.1h3.15v11.5h-3.15zM565.56 771.1h3.15v11.5h-3.15zM570.14 771.1h3.15v11.5h-3.15zM574.72 771.1h3.15v11.5h-3.15zM579.3 771.1h3.15v11.5h-3.15zM583.88 771.1h3.15v11.5h-3.15zM588.46 771.1h3.15v11.5h-3.15zM593.04 771.1h3.15v11.5h-3.15zM597.62 771.1h3.15v11.5h-3.15zM602.2 771.1h3.15v11.5h-3.15zM606.78 771.1h3.15v11.5h-3.15zM611.36 771.1h3.15v11.5h-3.15zM615.94 771.1h3.15v11.5h-3.15zM620.52 771.1h3.15v11.5h-3.15zM625.1 771.1h3.15v11.5h-3.15zM629.68 771.1h3.15v11.5h-3.15zM634.26 771.1h3.15v11.5h-3.15zM638.84 771.1h3.15v11.5h-3.15zM643.42 771.1h3.15v11.5h-3.15zM648 771.1h3.15v11.5h-3.15zM652.58 771.1h3.15v11.5h-3.15zM657.16 771.1h3.15v11.5h-3.15zM661.74 771.1h3.15v11.5h-3.15zM666.32 771.1h3.15v11.5h-3.15zM670.9 771.1h3.15v11.5h-3.15zM675.48 771.1h3.15v11.5h-3.15zM680.06 771.1h3.15v11.5h-3.15zM684.64 771.1h3.15v11.5h-3.15zM689.22 771.1h3.15v11.5h-3.15zM693.8 771.1h3.15v11.5h-3.15z" fill="#d7d7d7"/>
<path d="M167.1 771.1h3.15v11.5h-3.15zM377.78 771.1h3.15v11.5h-3.15zM414.42 771.1h3.15v11.5h-3.15zM419 771.1h3.15v11.5h-3.15zM423.58 771.1h3.15v11.5h-3.15zM428.16 771.1h3.15v11.5h-3.15zM432.74 771.1h3.15v11.5h-3.15zM437.32 771.1h3.15v11.5h-3.15zM441.9 771.1h3.15v11.5h-3.15zM446.48 771.1h3.15v11.5h-3.15zM451.06 771.1h3.15v11.5h-3.15zM455.64 771.1h3.15v11.5h-3.15z" fill="#e8171d"/>
<path d="M171.68 771.1h3.15v11.5h-3.15zM176.26 771.1h3.15v11.5h-3.15zM345.72 771.1h3.15v11.5h-3.15zM368.62 771.1h3.15v11.5h-3.15zM460.22 771.1h3.15v11.5h-3.15zM464.8 771.1h3.15v11.5h-3.15zM469.38 771.1h3.15v11.5h-3.15zM473.96 771.1h3.15v11.5h-3.15zM478.54 771.1h3.15v11.5h-3.15zM483.12 771.1h3.15v11.5h-3.15zM487.7 771.1h3.15v11.5h-3.15zM492.28 771.1h3.15v11.5h-3.15zM496.86 771.1h3.15v11.5h-3.15zM501.44 771.1h3.15v11.5h-3.15zM506.02 771.1h3.15v11.5h-3.15z" fill="#214ea1"/>
<text x="105.6" y="796.8" text-anchor="middle" font-size="12" class="t s3">B7-H2</text>
<text x="147.6" y="795.4" text-anchor="middle" font-size="12.2" class="t s3">0.6%*</text>
<path d="M167.1 787.9h3.15v11.5h-3.15zM171.68 787.9h3.15v11.5h-3.15zM176.26 787.9h3.15v11.5h-3.15zM180.84 787.9h3.15v11.5h-3.15zM185.42 787.9h3.15v11.5h-3.15zM190 787.9h3.15v11.5h-3.15zM194.58 787.9h3.15v11.5h-3.15zM199.16 787.9h3.15v11.5h-3.15zM203.74 787.9h3.15v11.5h-3.15zM208.32 787.9h3.15v11.5h-3.15zM212.9 787.9h3.15v11.5h-3.15zM217.48 787.9h3.15v11.5h-3.15zM222.06 787.9h3.15v11.5h-3.15zM226.64 787.9h3.15v11.5h-3.15zM231.22 787.9h3.15v11.5h-3.15zM235.8 787.9h3.15v11.5h-3.15zM240.38 787.9h3.15v11.5h-3.15zM244.96 787.9h3.15v11.5h-3.15zM249.54 787.9h3.15v11.5h-3.15zM254.12 787.9h3.15v11.5h-3.15zM258.7 787.9h3.15v11.5h-3.15zM263.28 787.9h3.15v11.5h-3.15zM267.86 787.9h3.15v11.5h-3.15zM272.44 787.9h3.15v11.5h-3.15zM277.02 787.9h3.15v11.5h-3.15zM281.6 787.9h3.15v11.5h-3.15zM286.18 787.9h3.15v11.5h-3.15zM290.76 787.9h3.15v11.5h-3.15zM295.34 787.9h3.15v11.5h-3.15zM299.92 787.9h3.15v11.5h-3.15zM304.5 787.9h3.15v11.5h-3.15zM309.08 787.9h3.15v11.5h-3.15zM313.66 787.9h3.15v11.5h-3.15zM318.24 787.9h3.15v11.5h-3.15zM322.82 787.9h3.15v11.5h-3.15zM327.4 787.9h3.15v11.5h-3.15zM331.98 787.9h3.15v11.5h-3.15zM336.56 787.9h3.15v11.5h-3.15zM341.14 787.9h3.15v11.5h-3.15zM345.72 787.9h3.15v11.5h-3.15zM350.3 787.9h3.15v11.5h-3.15zM354.88 787.9h3.15v11.5h-3.15zM359.46 787.9h3.15v11.5h-3.15zM364.04 787.9h3.15v11.5h-3.15zM368.62 787.9h3.15v11.5h-3.15zM373.2 787.9h3.15v11.5h-3.15zM377.78 787.9h3.15v11.5h-3.15zM382.36 787.9h3.15v11.5h-3.15zM386.94 787.9h3.15v11.5h-3.15zM391.52 787.9h3.15v11.5h-3.15zM396.1 787.9h3.15v11.5h-3.15zM400.68 787.9h3.15v11.5h-3.15zM405.26 787.9h3.15v11.5h-3.15zM409.84 787.9h3.15v11.5h-3.15zM414.42 787.9h3.15v11.5h-3.15zM419 787.9h3.15v11.5h-3.15zM423.58 787.9h3.15v11.5h-3.15zM428.16 787.9h3.15v11.5h-3.15zM432.74 787.9h3.15v11.5h-3.15zM437.32 787.9h3.15v11.5h-3.15zM441.9 787.9h3.15v11.5h-3.15zM446.48 787.9h3.15v11.5h-3.15zM451.06 787.9h3.15v11.5h-3.15zM455.64 787.9h3.15v11.5h-3.15zM460.22 787.9h3.15v11.5h-3.15zM464.8 787.9h3.15v11.5h-3.15zM469.38 787.9h3.15v11.5h-3.15zM473.96 787.9h3.15v11.5h-3.15zM478.54 787.9h3.15v11.5h-3.15zM483.12 787.9h3.15v11.5h-3.15zM487.7 787.9h3.15v11.5h-3.15zM492.28 787.9h3.15v11.5h-3.15zM496.86 787.9h3.15v11.5h-3.15zM501.44 787.9h3.15v11.5h-3.15zM506.02 787.9h3.15v11.5h-3.15zM524.34 787.9h3.15v11.5h-3.15zM528.92 787.9h3.15v11.5h-3.15zM533.5 787.9h3.15v11.5h-3.15zM538.08 787.9h3.15v11.5h-3.15zM542.66 787.9h3.15v11.5h-3.15zM547.24 787.9h3.15v11.5h-3.15zM551.82 787.9h3.15v11.5h-3.15zM556.4 787.9h3.15v11.5h-3.15zM560.98 787.9h3.15v11.5h-3.15zM565.56 787.9h3.15v11.5h-3.15zM570.14 787.9h3.15v11.5h-3.15zM574.72 787.9h3.15v11.5h-3.15zM579.3 787.9h3.15v11.5h-3.15zM583.88 787.9h3.15v11.5h-3.15zM588.46 787.9h3.15v11.5h-3.15zM593.04 787.9h3.15v11.5h-3.15zM597.62 787.9h3.15v11.5h-3.15zM602.2 787.9h3.15v11.5h-3.15zM606.78 787.9h3.15v11.5h-3.15zM611.36 787.9h3.15v11.5h-3.15zM615.94 787.9h3.15v11.5h-3.15zM620.52 787.9h3.15v11.5h-3.15zM625.1 787.9h3.15v11.5h-3.15zM629.68 787.9h3.15v11.5h-3.15zM634.26 787.9h3.15v11.5h-3.15zM638.84 787.9h3.15v11.5h-3.15zM643.42 787.9h3.15v11.5h-3.15zM648 787.9h3.15v11.5h-3.15zM652.58 787.9h3.15v11.5h-3.15zM657.16 787.9h3.15v11.5h-3.15zM661.74 787.9h3.15v11.5h-3.15zM666.32 787.9h3.15v11.5h-3.15zM670.9 787.9h3.15v11.5h-3.15zM675.48 787.9h3.15v11.5h-3.15zM680.06 787.9h3.15v11.5h-3.15zM684.64 787.9h3.15v11.5h-3.15zM689.22 787.9h3.15v11.5h-3.15zM693.8 787.9h3.15v11.5h-3.15z" fill="#d7d7d7"/>
<path d="M510.6 787.9h3.15v11.5h-3.15z" fill="#e8171d"/>
<path d="M515.18 787.9h3.15v11.5h-3.15zM519.76 787.9h3.15v11.5h-3.15z" fill="#214ea1"/>
<text x="105.6" y="813.6" text-anchor="middle" font-size="12" class="t s3">B7-H3</text>
<text x="147.6" y="812.2" text-anchor="middle" font-size="12.2" class="t s3">0.8%*</text>
<path d="M167.1 804.7h3.15v11.5h-3.15zM171.68 804.7h3.15v11.5h-3.15zM176.26 804.7h3.15v11.5h-3.15zM180.84 804.7h3.15v11.5h-3.15zM185.42 804.7h3.15v11.5h-3.15zM190 804.7h3.15v11.5h-3.15zM194.58 804.7h3.15v11.5h-3.15zM199.16 804.7h3.15v11.5h-3.15zM203.74 804.7h3.15v11.5h-3.15zM208.32 804.7h3.15v11.5h-3.15zM212.9 804.7h3.15v11.5h-3.15zM217.48 804.7h3.15v11.5h-3.15zM222.06 804.7h3.15v11.5h-3.15zM226.64 804.7h3.15v11.5h-3.15zM231.22 804.7h3.15v11.5h-3.15zM235.8 804.7h3.15v11.5h-3.15zM240.38 804.7h3.15v11.5h-3.15zM244.96 804.7h3.15v11.5h-3.15zM249.54 804.7h3.15v11.5h-3.15zM254.12 804.7h3.15v11.5h-3.15zM258.7 804.7h3.15v11.5h-3.15zM263.28 804.7h3.15v11.5h-3.15zM267.86 804.7h3.15v11.5h-3.15zM272.44 804.7h3.15v11.5h-3.15zM277.02 804.7h3.15v11.5h-3.15zM281.6 804.7h3.15v11.5h-3.15zM286.18 804.7h3.15v11.5h-3.15zM290.76 804.7h3.15v11.5h-3.15zM295.34 804.7h3.15v11.5h-3.15zM299.92 804.7h3.15v11.5h-3.15zM304.5 804.7h3.15v11.5h-3.15zM309.08 804.7h3.15v11.5h-3.15zM313.66 804.7h3.15v11.5h-3.15zM318.24 804.7h3.15v11.5h-3.15zM322.82 804.7h3.15v11.5h-3.15zM327.4 804.7h3.15v11.5h-3.15zM331.98 804.7h3.15v11.5h-3.15zM336.56 804.7h3.15v11.5h-3.15zM341.14 804.7h3.15v11.5h-3.15zM345.72 804.7h3.15v11.5h-3.15zM350.3 804.7h3.15v11.5h-3.15zM354.88 804.7h3.15v11.5h-3.15zM359.46 804.7h3.15v11.5h-3.15zM364.04 804.7h3.15v11.5h-3.15zM368.62 804.7h3.15v11.5h-3.15zM373.2 804.7h3.15v11.5h-3.15zM377.78 804.7h3.15v11.5h-3.15zM382.36 804.7h3.15v11.5h-3.15zM386.94 804.7h3.15v11.5h-3.15zM391.52 804.7h3.15v11.5h-3.15zM396.1 804.7h3.15v11.5h-3.15zM400.68 804.7h3.15v11.5h-3.15zM405.26 804.7h3.15v11.5h-3.15zM409.84 804.7h3.15v11.5h-3.15zM414.42 804.7h3.15v11.5h-3.15zM419 804.7h3.15v11.5h-3.15zM423.58 804.7h3.15v11.5h-3.15zM428.16 804.7h3.15v11.5h-3.15zM432.74 804.7h3.15v11.5h-3.15zM437.32 804.7h3.15v11.5h-3.15zM441.9 804.7h3.15v11.5h-3.15zM446.48 804.7h3.15v11.5h-3.15zM451.06 804.7h3.15v11.5h-3.15zM455.64 804.7h3.15v11.5h-3.15zM460.22 804.7h3.15v11.5h-3.15zM464.8 804.7h3.15v11.5h-3.15zM469.38 804.7h3.15v11.5h-3.15zM473.96 804.7h3.15v11.5h-3.15zM478.54 804.7h3.15v11.5h-3.15zM483.12 804.7h3.15v11.5h-3.15zM487.7 804.7h3.15v11.5h-3.15zM492.28 804.7h3.15v11.5h-3.15zM496.86 804.7h3.15v11.5h-3.15zM501.44 804.7h3.15v11.5h-3.15zM506.02 804.7h3.15v11.5h-3.15zM510.6 804.7h3.15v11.5h-3.15zM515.18 804.7h3.15v11.5h-3.15zM519.76 804.7h3.15v11.5h-3.15zM533.5 804.7h3.15v11.5h-3.15zM538.08 804.7h3.15v11.5h-3.15zM542.66 804.7h3.15v11.5h-3.15zM547.24 804.7h3.15v11.5h-3.15zM551.82 804.7h3.15v11.5h-3.15zM556.4 804.7h3.15v11.5h-3.15zM560.98 804.7h3.15v11.5h-3.15zM565.56 804.7h3.15v11.5h-3.15zM570.14 804.7h3.15v11.5h-3.15zM574.72 804.7h3.15v11.5h-3.15zM579.3 804.7h3.15v11.5h-3.15zM583.88 804.7h3.15v11.5h-3.15zM588.46 804.7h3.15v11.5h-3.15zM593.04 804.7h3.15v11.5h-3.15zM597.62 804.7h3.15v11.5h-3.15zM602.2 804.7h3.15v11.5h-3.15zM606.78 804.7h3.15v11.5h-3.15zM611.36 804.7h3.15v11.5h-3.15zM615.94 804.7h3.15v11.5h-3.15zM620.52 804.7h3.15v11.5h-3.15zM625.1 804.7h3.15v11.5h-3.15zM629.68 804.7h3.15v11.5h-3.15zM634.26 804.7h3.15v11.5h-3.15zM638.84 804.7h3.15v11.5h-3.15zM643.42 804.7h3.15v11.5h-3.15zM648 804.7h3.15v11.5h-3.15zM652.58 804.7h3.15v11.5h-3.15zM657.16 804.7h3.15v11.5h-3.15zM661.74 804.7h3.15v11.5h-3.15zM666.32 804.7h3.15v11.5h-3.15zM670.9 804.7h3.15v11.5h-3.15zM675.48 804.7h3.15v11.5h-3.15zM680.06 804.7h3.15v11.5h-3.15zM684.64 804.7h3.15v11.5h-3.15zM689.22 804.7h3.15v11.5h-3.15zM693.8 804.7h3.15v11.5h-3.15z" fill="#d7d7d7"/>
<path d="M524.34 804.7h3.15v11.5h-3.15zM528.92 804.7h3.15v11.5h-3.15z" fill="#e8171d"/>
<path d="M533.5 808.3h3.15v4.3h-3.15zM538.08 808.3h3.15v4.3h-3.15z" fill="#5ab82c"/>
<text x="105.6" y="830.4" text-anchor="middle" font-size="12" class="t s3">B7-H4</text>
<text x="149.6" y="829" text-anchor="middle" font-size="12.2" class="t s3">4%*</text>
<path d="M167.1 821.5h3.15v11.5h-3.15zM171.68 821.5h3.15v11.5h-3.15zM176.26 821.5h3.15v11.5h-3.15zM190 821.5h3.15v11.5h-3.15zM194.58 821.5h3.15v11.5h-3.15zM199.16 821.5h3.15v11.5h-3.15zM203.74 821.5h3.15v11.5h-3.15zM208.32 821.5h3.15v11.5h-3.15zM212.9 821.5h3.15v11.5h-3.15zM217.48 821.5h3.15v11.5h-3.15zM222.06 821.5h3.15v11.5h-3.15zM226.64 821.5h3.15v11.5h-3.15zM231.22 821.5h3.15v11.5h-3.15zM235.8 821.5h3.15v11.5h-3.15zM240.38 821.5h3.15v11.5h-3.15zM244.96 821.5h3.15v11.5h-3.15zM249.54 821.5h3.15v11.5h-3.15zM254.12 821.5h3.15v11.5h-3.15zM258.7 821.5h3.15v11.5h-3.15zM263.28 821.5h3.15v11.5h-3.15zM267.86 821.5h3.15v11.5h-3.15zM272.44 821.5h3.15v11.5h-3.15zM277.02 821.5h3.15v11.5h-3.15zM281.6 821.5h3.15v11.5h-3.15zM286.18 821.5h3.15v11.5h-3.15zM290.76 821.5h3.15v11.5h-3.15zM295.34 821.5h3.15v11.5h-3.15zM299.92 821.5h3.15v11.5h-3.15zM304.5 821.5h3.15v11.5h-3.15zM309.08 821.5h3.15v11.5h-3.15zM313.66 821.5h3.15v11.5h-3.15zM318.24 821.5h3.15v11.5h-3.15zM322.82 821.5h3.15v11.5h-3.15zM327.4 821.5h3.15v11.5h-3.15zM331.98 821.5h3.15v11.5h-3.15zM336.56 821.5h3.15v11.5h-3.15zM341.14 821.5h3.15v11.5h-3.15zM350.3 821.5h3.15v11.5h-3.15zM354.88 821.5h3.15v11.5h-3.15zM359.46 821.5h3.15v11.5h-3.15zM364.04 821.5h3.15v11.5h-3.15zM368.62 821.5h3.15v11.5h-3.15zM373.2 821.5h3.15v11.5h-3.15zM377.78 821.5h3.15v11.5h-3.15zM382.36 821.5h3.15v11.5h-3.15zM386.94 821.5h3.15v11.5h-3.15zM391.52 821.5h3.15v11.5h-3.15zM396.1 821.5h3.15v11.5h-3.15zM400.68 821.5h3.15v11.5h-3.15zM405.26 821.5h3.15v11.5h-3.15zM409.84 821.5h3.15v11.5h-3.15zM414.42 821.5h3.15v11.5h-3.15zM419 821.5h3.15v11.5h-3.15zM423.58 821.5h3.15v11.5h-3.15zM428.16 821.5h3.15v11.5h-3.15zM432.74 821.5h3.15v11.5h-3.15zM437.32 821.5h3.15v11.5h-3.15zM441.9 821.5h3.15v11.5h-3.15zM446.48 821.5h3.15v11.5h-3.15zM451.06 821.5h3.15v11.5h-3.15zM455.64 821.5h3.15v11.5h-3.15zM469.38 821.5h3.15v11.5h-3.15zM473.96 821.5h3.15v11.5h-3.15zM478.54 821.5h3.15v11.5h-3.15zM483.12 821.5h3.15v11.5h-3.15zM487.7 821.5h3.15v11.5h-3.15zM492.28 821.5h3.15v11.5h-3.15zM496.86 821.5h3.15v11.5h-3.15zM501.44 821.5h3.15v11.5h-3.15zM506.02 821.5h3.15v11.5h-3.15zM510.6 821.5h3.15v11.5h-3.15zM519.76 821.5h3.15v11.5h-3.15zM524.34 821.5h3.15v11.5h-3.15zM528.92 821.5h3.15v11.5h-3.15zM533.5 821.5h3.15v11.5h-3.15zM538.08 821.5h3.15v11.5h-3.15zM611.36 821.5h3.15v11.5h-3.15zM615.94 821.5h3.15v11.5h-3.15zM620.52 821.5h3.15v11.5h-3.15zM625.1 821.5h3.15v11.5h-3.15zM629.68 821.5h3.15v11.5h-3.15zM634.26 821.5h3.15v11.5h-3.15zM638.84 821.5h3.15v11.5h-3.15zM643.42 821.5h3.15v11.5h-3.15zM648 821.5h3.15v11.5h-3.15zM652.58 821.5h3.15v11.5h-3.15zM657.16 821.5h3.15v11.5h-3.15zM661.74 821.5h3.15v11.5h-3.15zM666.32 821.5h3.15v11.5h-3.15zM670.9 821.5h3.15v11.5h-3.15zM675.48 821.5h3.15v11.5h-3.15zM680.06 821.5h3.15v11.5h-3.15zM684.64 821.5h3.15v11.5h-3.15zM689.22 821.5h3.15v11.5h-3.15zM693.8 821.5h3.15v11.5h-3.15z" fill="#d7d7d7"/>
<path d="M180.84 821.5h3.15v11.5h-3.15zM542.66 821.5h3.15v11.5h-3.15zM547.24 821.5h3.15v11.5h-3.15zM551.82 821.5h3.15v11.5h-3.15z" fill="#e8171d"/>
<path d="M185.42 821.5h3.15v11.5h-3.15zM345.72 821.5h3.15v11.5h-3.15zM460.22 821.5h3.15v11.5h-3.15zM464.8 821.5h3.15v11.5h-3.15zM515.18 821.5h3.15v11.5h-3.15zM556.4 821.5h3.15v11.5h-3.15zM560.98 821.5h3.15v11.5h-3.15zM565.56 821.5h3.15v11.5h-3.15zM570.14 821.5h3.15v11.5h-3.15zM574.72 821.5h3.15v11.5h-3.15zM579.3 821.5h3.15v11.5h-3.15zM583.88 821.5h3.15v11.5h-3.15zM588.46 821.5h3.15v11.5h-3.15zM593.04 821.5h3.15v11.5h-3.15zM597.62 821.5h3.15v11.5h-3.15zM602.2 821.5h3.15v11.5h-3.15zM606.78 821.5h3.15v11.5h-3.15z" fill="#214ea1"/>
<text x="105.6" y="847.2" text-anchor="middle" font-size="12" class="t s3">B7-H5</text>
<text x="147.6" y="845.8" text-anchor="middle" font-size="12.2" class="t s3">1.4%*</text>
<path d="M167.1 838.3h3.15v11.5h-3.15zM171.68 838.3h3.15v11.5h-3.15zM176.26 838.3h3.15v11.5h-3.15zM180.84 838.3h3.15v11.5h-3.15zM185.42 838.3h3.15v11.5h-3.15zM190 838.3h3.15v11.5h-3.15zM194.58 838.3h3.15v11.5h-3.15zM199.16 838.3h3.15v11.5h-3.15zM203.74 838.3h3.15v11.5h-3.15zM208.32 838.3h3.15v11.5h-3.15zM212.9 838.3h3.15v11.5h-3.15zM217.48 838.3h3.15v11.5h-3.15zM222.06 838.3h3.15v11.5h-3.15zM226.64 838.3h3.15v11.5h-3.15zM231.22 838.3h3.15v11.5h-3.15zM235.8 838.3h3.15v11.5h-3.15zM240.38 838.3h3.15v11.5h-3.15zM244.96 838.3h3.15v11.5h-3.15zM249.54 838.3h3.15v11.5h-3.15zM254.12 838.3h3.15v11.5h-3.15zM258.7 838.3h3.15v11.5h-3.15zM263.28 838.3h3.15v11.5h-3.15zM267.86 838.3h3.15v11.5h-3.15zM272.44 838.3h3.15v11.5h-3.15zM277.02 838.3h3.15v11.5h-3.15zM281.6 838.3h3.15v11.5h-3.15zM286.18 838.3h3.15v11.5h-3.15zM290.76 838.3h3.15v11.5h-3.15zM295.34 838.3h3.15v11.5h-3.15zM299.92 838.3h3.15v11.5h-3.15zM304.5 838.3h3.15v11.5h-3.15zM309.08 838.3h3.15v11.5h-3.15zM313.66 838.3h3.15v11.5h-3.15zM318.24 838.3h3.15v11.5h-3.15zM322.82 838.3h3.15v11.5h-3.15zM327.4 838.3h3.15v11.5h-3.15zM331.98 838.3h3.15v11.5h-3.15zM336.56 838.3h3.15v11.5h-3.15zM341.14 838.3h3.15v11.5h-3.15zM345.72 838.3h3.15v11.5h-3.15zM350.3 838.3h3.15v11.5h-3.15zM354.88 838.3h3.15v11.5h-3.15zM359.46 838.3h3.15v11.5h-3.15zM364.04 838.3h3.15v11.5h-3.15zM368.62 838.3h3.15v11.5h-3.15zM373.2 838.3h3.15v11.5h-3.15zM377.78 838.3h3.15v11.5h-3.15zM382.36 838.3h3.15v11.5h-3.15zM386.94 838.3h3.15v11.5h-3.15zM391.52 838.3h3.15v11.5h-3.15zM396.1 838.3h3.15v11.5h-3.15zM400.68 838.3h3.15v11.5h-3.15zM405.26 838.3h3.15v11.5h-3.15zM409.84 838.3h3.15v11.5h-3.15zM414.42 838.3h3.15v11.5h-3.15zM419 838.3h3.15v11.5h-3.15zM423.58 838.3h3.15v11.5h-3.15zM428.16 838.3h3.15v11.5h-3.15zM432.74 838.3h3.15v11.5h-3.15zM437.32 838.3h3.15v11.5h-3.15zM441.9 838.3h3.15v11.5h-3.15zM446.48 838.3h3.15v11.5h-3.15zM451.06 838.3h3.15v11.5h-3.15zM455.64 838.3h3.15v11.5h-3.15zM460.22 838.3h3.15v11.5h-3.15zM464.8 838.3h3.15v11.5h-3.15zM469.38 838.3h3.15v11.5h-3.15zM473.96 838.3h3.15v11.5h-3.15zM478.54 838.3h3.15v11.5h-3.15zM483.12 838.3h3.15v11.5h-3.15zM487.7 838.3h3.15v11.5h-3.15zM492.28 838.3h3.15v11.5h-3.15zM496.86 838.3h3.15v11.5h-3.15zM501.44 838.3h3.15v11.5h-3.15zM506.02 838.3h3.15v11.5h-3.15zM510.6 838.3h3.15v11.5h-3.15zM515.18 838.3h3.15v11.5h-3.15zM524.34 838.3h3.15v11.5h-3.15zM528.92 838.3h3.15v11.5h-3.15zM533.5 838.3h3.15v11.5h-3.15zM538.08 838.3h3.15v11.5h-3.15zM542.66 838.3h3.15v11.5h-3.15zM547.24 838.3h3.15v11.5h-3.15zM551.82 838.3h3.15v11.5h-3.15zM556.4 838.3h3.15v11.5h-3.15zM560.98 838.3h3.15v11.5h-3.15zM565.56 838.3h3.15v11.5h-3.15zM570.14 838.3h3.15v11.5h-3.15zM574.72 838.3h3.15v11.5h-3.15zM579.3 838.3h3.15v11.5h-3.15zM583.88 838.3h3.15v11.5h-3.15zM588.46 838.3h3.15v11.5h-3.15zM593.04 838.3h3.15v11.5h-3.15zM597.62 838.3h3.15v11.5h-3.15zM602.2 838.3h3.15v11.5h-3.15zM606.78 838.3h3.15v11.5h-3.15zM638.84 838.3h3.15v11.5h-3.15zM643.42 838.3h3.15v11.5h-3.15zM648 838.3h3.15v11.5h-3.15zM652.58 838.3h3.15v11.5h-3.15zM657.16 838.3h3.15v11.5h-3.15zM661.74 838.3h3.15v11.5h-3.15zM666.32 838.3h3.15v11.5h-3.15zM670.9 838.3h3.15v11.5h-3.15zM675.48 838.3h3.15v11.5h-3.15zM680.06 838.3h3.15v11.5h-3.15zM684.64 838.3h3.15v11.5h-3.15zM689.22 838.3h3.15v11.5h-3.15zM693.8 838.3h3.15v11.5h-3.15z" fill="#d7d7d7"/>
<path d="M611.36 838.3h3.15v11.5h-3.15zM615.94 838.3h3.15v11.5h-3.15zM620.52 838.3h3.15v11.5h-3.15zM625.1 838.3h3.15v11.5h-3.15z" fill="#e8171d"/>
<path d="M519.76 838.3h3.15v11.5h-3.15zM629.68 838.3h3.15v11.5h-3.15zM634.26 838.3h3.15v11.5h-3.15z" fill="#214ea1"/>
<text x="105.6" y="864" text-anchor="middle" font-size="12" class="t s3">B7-H6</text>
<text x="147.6" y="862.6" text-anchor="middle" font-size="12.2" class="t s3">1.2%*</text>
<path d="M167.1 855.1h3.15v11.5h-3.15zM171.68 855.1h3.15v11.5h-3.15zM176.26 855.1h3.15v11.5h-3.15zM180.84 855.1h3.15v11.5h-3.15zM185.42 855.1h3.15v11.5h-3.15zM190 855.1h3.15v11.5h-3.15zM194.58 855.1h3.15v11.5h-3.15zM199.16 855.1h3.15v11.5h-3.15zM203.74 855.1h3.15v11.5h-3.15zM208.32 855.1h3.15v11.5h-3.15zM212.9 855.1h3.15v11.5h-3.15zM217.48 855.1h3.15v11.5h-3.15zM222.06 855.1h3.15v11.5h-3.15zM226.64 855.1h3.15v11.5h-3.15zM231.22 855.1h3.15v11.5h-3.15zM235.8 855.1h3.15v11.5h-3.15zM240.38 855.1h3.15v11.5h-3.15zM244.96 855.1h3.15v11.5h-3.15zM249.54 855.1h3.15v11.5h-3.15zM254.12 855.1h3.15v11.5h-3.15zM258.7 855.1h3.15v11.5h-3.15zM263.28 855.1h3.15v11.5h-3.15zM267.86 855.1h3.15v11.5h-3.15zM272.44 855.1h3.15v11.5h-3.15zM277.02 855.1h3.15v11.5h-3.15zM281.6 855.1h3.15v11.5h-3.15zM286.18 855.1h3.15v11.5h-3.15zM290.76 855.1h3.15v11.5h-3.15zM295.34 855.1h3.15v11.5h-3.15zM299.92 855.1h3.15v11.5h-3.15zM304.5 855.1h3.15v11.5h-3.15zM309.08 855.1h3.15v11.5h-3.15zM313.66 855.1h3.15v11.5h-3.15zM318.24 855.1h3.15v11.5h-3.15zM322.82 855.1h3.15v11.5h-3.15zM327.4 855.1h3.15v11.5h-3.15zM331.98 855.1h3.15v11.5h-3.15zM336.56 855.1h3.15v11.5h-3.15zM341.14 855.1h3.15v11.5h-3.15zM345.72 855.1h3.15v11.5h-3.15zM350.3 855.1h3.15v11.5h-3.15zM354.88 855.1h3.15v11.5h-3.15zM359.46 855.1h3.15v11.5h-3.15zM364.04 855.1h3.15v11.5h-3.15zM368.62 855.1h3.15v11.5h-3.15zM373.2 855.1h3.15v11.5h-3.15zM377.78 855.1h3.15v11.5h-3.15zM382.36 855.1h3.15v11.5h-3.15zM386.94 855.1h3.15v11.5h-3.15zM391.52 855.1h3.15v11.5h-3.15zM396.1 855.1h3.15v11.5h-3.15zM400.68 855.1h3.15v11.5h-3.15zM405.26 855.1h3.15v11.5h-3.15zM409.84 855.1h3.15v11.5h-3.15zM419 855.1h3.15v11.5h-3.15zM423.58 855.1h3.15v11.5h-3.15zM428.16 855.1h3.15v11.5h-3.15zM432.74 855.1h3.15v11.5h-3.15zM437.32 855.1h3.15v11.5h-3.15zM441.9 855.1h3.15v11.5h-3.15zM446.48 855.1h3.15v11.5h-3.15zM451.06 855.1h3.15v11.5h-3.15zM455.64 855.1h3.15v11.5h-3.15zM460.22 855.1h3.15v11.5h-3.15zM464.8 855.1h3.15v11.5h-3.15zM469.38 855.1h3.15v11.5h-3.15zM473.96 855.1h3.15v11.5h-3.15zM478.54 855.1h3.15v11.5h-3.15zM483.12 855.1h3.15v11.5h-3.15zM487.7 855.1h3.15v11.5h-3.15zM492.28 855.1h3.15v11.5h-3.15zM496.86 855.1h3.15v11.5h-3.15zM501.44 855.1h3.15v11.5h-3.15zM506.02 855.1h3.15v11.5h-3.15zM510.6 855.1h3.15v11.5h-3.15zM515.18 855.1h3.15v11.5h-3.15zM519.76 855.1h3.15v11.5h-3.15zM524.34 855.1h3.15v11.5h-3.15zM528.92 855.1h3.15v11.5h-3.15zM533.5 855.1h3.15v11.5h-3.15zM538.08 855.1h3.15v11.5h-3.15zM542.66 855.1h3.15v11.5h-3.15zM547.24 855.1h3.15v11.5h-3.15zM551.82 855.1h3.15v11.5h-3.15zM560.98 855.1h3.15v11.5h-3.15zM565.56 855.1h3.15v11.5h-3.15zM570.14 855.1h3.15v11.5h-3.15zM574.72 855.1h3.15v11.5h-3.15zM579.3 855.1h3.15v11.5h-3.15zM583.88 855.1h3.15v11.5h-3.15zM588.46 855.1h3.15v11.5h-3.15zM593.04 855.1h3.15v11.5h-3.15zM597.62 855.1h3.15v11.5h-3.15zM602.2 855.1h3.15v11.5h-3.15zM606.78 855.1h3.15v11.5h-3.15zM611.36 855.1h3.15v11.5h-3.15zM615.94 855.1h3.15v11.5h-3.15zM620.52 855.1h3.15v11.5h-3.15zM625.1 855.1h3.15v11.5h-3.15zM629.68 855.1h3.15v11.5h-3.15zM634.26 855.1h3.15v11.5h-3.15zM657.16 855.1h3.15v11.5h-3.15zM661.74 855.1h3.15v11.5h-3.15zM666.32 855.1h3.15v11.5h-3.15zM670.9 855.1h3.15v11.5h-3.15zM675.48 855.1h3.15v11.5h-3.15zM680.06 855.1h3.15v11.5h-3.15zM684.64 855.1h3.15v11.5h-3.15zM689.22 855.1h3.15v11.5h-3.15zM693.8 855.1h3.15v11.5h-3.15z" fill="#d7d7d7"/>
<path d="M414.42 855.1h3.15v11.5h-3.15zM556.4 855.1h3.15v11.5h-3.15zM638.84 855.1h3.15v11.5h-3.15zM643.42 855.1h3.15v11.5h-3.15zM648 855.1h3.15v11.5h-3.15z" fill="#e8171d"/>
<path d="M652.58 855.1h3.15v11.5h-3.15z" fill="#214ea1"/>
<text x="105.6" y="880.8" text-anchor="middle" font-size="12" class="t s3">B7-H7</text>
<text x="149.6" y="879.4" text-anchor="middle" font-size="12.2" class="t s3">9%*</text>
<path d="M176.26 871.9h3.15v11.5h-3.15zM180.84 871.9h3.15v11.5h-3.15zM327.4 871.9h3.15v11.5h-3.15zM331.98 871.9h3.15v11.5h-3.15zM336.56 871.9h3.15v11.5h-3.15zM341.14 871.9h3.15v11.5h-3.15zM345.72 871.9h3.15v11.5h-3.15zM354.88 871.9h3.15v11.5h-3.15zM359.46 871.9h3.15v11.5h-3.15zM368.62 871.9h3.15v11.5h-3.15zM373.2 871.9h3.15v11.5h-3.15zM377.78 871.9h3.15v11.5h-3.15zM391.52 871.9h3.15v11.5h-3.15zM396.1 871.9h3.15v11.5h-3.15zM400.68 871.9h3.15v11.5h-3.15zM405.26 871.9h3.15v11.5h-3.15zM409.84 871.9h3.15v11.5h-3.15zM414.42 871.9h3.15v11.5h-3.15zM419 871.9h3.15v11.5h-3.15zM423.58 871.9h3.15v11.5h-3.15zM428.16 871.9h3.15v11.5h-3.15zM432.74 871.9h3.15v11.5h-3.15zM437.32 871.9h3.15v11.5h-3.15zM441.9 871.9h3.15v11.5h-3.15zM446.48 871.9h3.15v11.5h-3.15zM451.06 871.9h3.15v11.5h-3.15zM455.64 871.9h3.15v11.5h-3.15zM464.8 871.9h3.15v11.5h-3.15zM469.38 871.9h3.15v11.5h-3.15zM473.96 871.9h3.15v11.5h-3.15zM478.54 871.9h3.15v11.5h-3.15zM483.12 871.9h3.15v11.5h-3.15zM487.7 871.9h3.15v11.5h-3.15zM492.28 871.9h3.15v11.5h-3.15zM496.86 871.9h3.15v11.5h-3.15zM501.44 871.9h3.15v11.5h-3.15zM506.02 871.9h3.15v11.5h-3.15zM515.18 871.9h3.15v11.5h-3.15zM519.76 871.9h3.15v11.5h-3.15zM524.34 871.9h3.15v11.5h-3.15zM528.92 871.9h3.15v11.5h-3.15zM533.5 871.9h3.15v11.5h-3.15zM538.08 871.9h3.15v11.5h-3.15zM542.66 871.9h3.15v11.5h-3.15zM547.24 871.9h3.15v11.5h-3.15zM551.82 871.9h3.15v11.5h-3.15zM556.4 871.9h3.15v11.5h-3.15zM560.98 871.9h3.15v11.5h-3.15zM565.56 871.9h3.15v11.5h-3.15zM570.14 871.9h3.15v11.5h-3.15zM574.72 871.9h3.15v11.5h-3.15zM579.3 871.9h3.15v11.5h-3.15zM583.88 871.9h3.15v11.5h-3.15zM588.46 871.9h3.15v11.5h-3.15zM593.04 871.9h3.15v11.5h-3.15zM597.62 871.9h3.15v11.5h-3.15zM602.2 871.9h3.15v11.5h-3.15zM606.78 871.9h3.15v11.5h-3.15zM611.36 871.9h3.15v11.5h-3.15zM615.94 871.9h3.15v11.5h-3.15zM620.52 871.9h3.15v11.5h-3.15zM625.1 871.9h3.15v11.5h-3.15zM629.68 871.9h3.15v11.5h-3.15zM634.26 871.9h3.15v11.5h-3.15zM638.84 871.9h3.15v11.5h-3.15zM643.42 871.9h3.15v11.5h-3.15zM648 871.9h3.15v11.5h-3.15zM652.58 871.9h3.15v11.5h-3.15zM680.06 871.9h3.15v11.5h-3.15zM684.64 871.9h3.15v11.5h-3.15zM689.22 871.9h3.15v11.5h-3.15zM693.8 871.9h3.15v11.5h-3.15z" fill="#d7d7d7"/>
<path d="M167.1 871.9h3.15v11.5h-3.15zM171.68 871.9h3.15v11.5h-3.15zM185.42 871.9h3.15v11.5h-3.15zM190 871.9h3.15v11.5h-3.15zM194.58 871.9h3.15v11.5h-3.15zM199.16 871.9h3.15v11.5h-3.15zM203.74 871.9h3.15v11.5h-3.15zM208.32 871.9h3.15v11.5h-3.15zM212.9 871.9h3.15v11.5h-3.15zM217.48 871.9h3.15v11.5h-3.15zM222.06 871.9h3.15v11.5h-3.15zM226.64 871.9h3.15v11.5h-3.15zM231.22 871.9h3.15v11.5h-3.15zM235.8 871.9h3.15v11.5h-3.15zM240.38 871.9h3.15v11.5h-3.15zM244.96 871.9h3.15v11.5h-3.15zM249.54 871.9h3.15v11.5h-3.15zM254.12 871.9h3.15v11.5h-3.15zM258.7 871.9h3.15v11.5h-3.15zM263.28 871.9h3.15v11.5h-3.15zM267.86 871.9h3.15v11.5h-3.15zM272.44 871.9h3.15v11.5h-3.15zM277.02 871.9h3.15v11.5h-3.15zM281.6 871.9h3.15v11.5h-3.15zM286.18 871.9h3.15v11.5h-3.15zM290.76 871.9h3.15v11.5h-3.15zM295.34 871.9h3.15v11.5h-3.15zM299.92 871.9h3.15v11.5h-3.15zM304.5 871.9h3.15v11.5h-3.15zM309.08 871.9h3.15v11.5h-3.15zM313.66 871.9h3.15v11.5h-3.15zM318.24 871.9h3.15v11.5h-3.15zM322.82 871.9h3.15v11.5h-3.15zM350.3 871.9h3.15v11.5h-3.15zM364.04 871.9h3.15v11.5h-3.15zM382.36 871.9h3.15v11.5h-3.15zM386.94 871.9h3.15v11.5h-3.15zM460.22 871.9h3.15v11.5h-3.15zM510.6 871.9h3.15v11.5h-3.15zM657.16 871.9h3.15v11.5h-3.15zM661.74 871.9h3.15v11.5h-3.15zM666.32 871.9h3.15v11.5h-3.15z" fill="#e8171d"/>
<path d="M670.9 871.9h3.15v11.5h-3.15zM675.48 871.9h3.15v11.5h-3.15z" fill="#214ea1"/>
<path d="M684.64 875.5h3.15v4.3h-3.15zM689.22 875.5h3.15v4.3h-3.15z" fill="#5ab82c"/>
<path d="M680.06 875.5h3.15v4.3h-3.15z" fill="#5f6a80"/>
<text x="69.1" y="914.2" font-size="13.65" class="t s3">Genetic Alteration</text>
<rect x="184.8" y="903.4" width="3.2" height="11.2" fill="#d7d7d7"/>
<rect x="184.35" y="906.9" width="4.1" height="4.3" fill="#5ab82c"/>
<text x="190.5" y="913.9" font-size="11.1" class="t s2">Missense Mutation</text>
<rect x="352.9" y="904.7" width="3.2" height="11.2" fill="#d7d7d7"/>
<rect x="352.9" y="907.4" width="3.2" height="4.3" fill="#f4bd84"/>
<text x="358.6" y="913.9" font-size="11.1" class="t s2">Splice Mutation</text>
<rect x="486.5" y="903.4" width="3.2" height="11.2" fill="#d7d7d7"/>
<rect x="486.1" y="906.9" width="4" height="4.3" fill="#5f6a80"/>
<text x="492.2" y="913.9" font-size="11.1" class="t s2">Truncating Mutation</text>
<rect x="184.4" y="930.1" width="3.2" height="11.4" fill="#e8171d"/>
<text x="190.1" y="939.8" font-size="11.1" class="t s2">Amplification</text>
<rect x="352.9" y="930.1" width="3.2" height="11.4" fill="#214ea1"/>
<text x="358.6" y="939.8" font-size="11.1" class="t s2">Deep Deletion</text>
<rect x="486.5" y="930.1" width="3.2" height="11.4" fill="#d7d7d7"/>
<text x="492.2" y="939.8" font-size="11.1" class="t s2">No alterations</text>
</svg>
</body>
</html>
